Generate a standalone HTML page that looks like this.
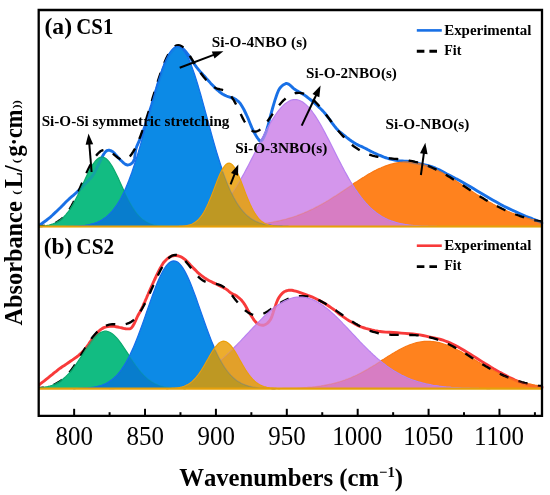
<!DOCTYPE html>
<html><head><meta charset="utf-8"><title>FTIR deconvolution</title>
<style>
html,body{margin:0;padding:0;background:#fff;}
body{width:550px;height:495px;overflow:hidden;position:relative;font-family:"Liberation Serif",serif;}
svg text{font-family:"Liberation Serif",serif;fill:#000;font-kerning:none;}
svg text.b{font-weight:bold;}
svg text.r{font-weight:normal;}
</style></head><body>
<svg width="550" height="495" viewBox="0 0 550 495" style="position:absolute;left:0;top:0">
<rect width="550" height="495" fill="#fff"/>
<clipPath id="ca"><rect x="38.7" y="10.0" width="504.8" height="217.79999999999998"/></clipPath>
<clipPath id="cb"><rect x="38.7" y="226.6" width="504.8" height="189.20000000000002"/></clipPath>
<g clip-path="url(#ca)"><path d="M39.0,225.5 L40.2,224.6 L41.9,223.5 L44.0,222.0 L46.1,220.5 L48.1,218.9 L50.1,217.3 L52.1,215.5 L54.1,213.6 L56.2,211.7 L58.2,209.8 L60.3,207.8 L62.3,205.7 L64.4,203.6 L66.4,201.5 L68.3,199.7 L70.0,198.1 L71.7,196.7 L73.3,195.4 L74.8,194.0 L76.4,192.6 L78.0,191.1 L79.6,189.5 L81.3,187.9 L82.9,186.2 L84.5,184.5 L86.2,182.8 L87.8,181.1 L89.5,179.3 L91.1,177.5 L92.6,175.5 L93.9,173.4 L95.2,171.1 L96.4,168.8 L97.5,166.5 L98.6,164.3 L99.7,162.1 L100.8,159.9 L101.8,157.7 L102.8,155.8 L103.7,154.2 L104.6,153.0 L105.3,152.0 L106.1,151.2 L106.8,150.7 L107.7,150.4 L108.6,150.3 L109.6,150.3 L110.6,150.6 L111.7,151.1 L112.8,151.8 L113.9,152.8 L115.1,154.1 L116.3,155.5 L117.6,157.0 L118.8,158.3 L120.0,159.6 L121.3,160.8 L122.6,162.0 L123.8,163.1 L124.9,163.9 L125.9,164.5 L126.8,164.8 L127.6,165.0 L128.4,164.9 L129.3,164.7 L130.3,164.3 L131.3,163.7 L132.3,162.9 L133.2,161.8 L134.0,160.3 L134.6,158.3 L134.9,155.9 L135.2,153.3 L135.6,150.6 L136.2,148.0 L137.1,145.6 L138.1,143.3 L139.2,140.9 L140.3,138.5 L141.4,136.0 L142.4,133.3 L143.4,130.5 L144.4,127.7 L145.4,124.8 L146.3,122.0 L147.2,119.2 L148.1,116.4 L149.0,113.6 L149.8,110.8 L150.7,108.0 L151.6,105.2 L152.4,102.4 L153.2,99.6 L154.1,96.8 L154.9,94.0 L155.7,91.2 L156.6,88.4 L157.4,85.6 L158.3,82.8 L159.2,80.0 L160.2,77.1 L161.1,74.2 L162.2,71.3 L163.1,68.5 L164.1,66.0 L164.9,63.7 L165.6,61.7 L166.4,59.8 L167.3,57.9 L168.4,56.0 L169.9,53.9 L171.7,51.6 L173.6,49.4 L175.5,47.7 L177.3,46.8 L179.0,46.7 L180.5,47.1 L182.1,48.1 L183.8,49.6 L185.6,51.5 L187.7,54.1 L190.0,57.4 L192.3,61.0 L194.6,64.5 L196.7,67.4 L198.5,69.6 L200.0,71.4 L201.5,73.0 L203.0,74.7 L204.7,76.5 L206.6,78.7 L208.7,81.0 L210.8,83.4 L212.9,85.6 L214.8,87.6 L216.5,89.3 L218.2,90.7 L219.8,92.0 L221.3,93.2 L222.9,94.2 L224.6,95.1 L226.4,96.0 L228.1,96.7 L229.7,97.2 L231.0,97.7 L231.9,98.0 L232.5,98.0 L232.9,97.9 L233.4,98.0 L234.1,98.4 L235.1,99.0 L236.3,99.8 L237.6,100.8 L238.9,101.9 L240.2,103.4 L241.4,105.2 L242.6,107.3 L243.9,109.5 L245.1,112.0 L246.3,114.5 L247.5,117.2 L248.8,120.2 L250.0,123.2 L251.2,126.1 L252.3,128.7 L253.4,130.9 L254.5,133.0 L255.5,134.8 L256.5,136.5 L257.4,137.8 L258.3,139.0 L259.0,140.1 L259.8,140.8 L260.5,141.1 L261.4,140.8 L262.3,139.8 L263.3,138.3 L264.3,136.2 L265.4,133.7 L266.5,130.7 L267.6,127.0 L268.8,122.5 L270.0,117.7 L271.3,112.9 L272.5,108.5 L273.7,104.4 L274.9,100.4 L276.2,96.5 L277.4,93.1 L278.6,90.3 L279.8,88.2 L281.1,86.7 L282.3,85.6 L283.5,84.8 L284.6,84.2 L285.5,83.7 L286.3,83.5 L287.0,83.5 L287.8,83.8 L288.7,84.2 L289.7,84.9 L290.8,85.8 L291.9,86.9 L293.2,88.1 L294.7,89.3 L296.5,90.4 L298.4,91.6 L300.6,92.8 L302.7,94.0 L304.8,95.4 L306.8,96.8 L308.8,98.4 L310.9,100.0 L312.9,101.6 L314.9,103.4 L316.9,105.2 L318.9,107.1 L320.9,109.0 L323.0,111.1 L325.1,113.5 L327.3,116.3 L329.7,119.5 L332.0,122.8 L334.3,125.9 L336.4,128.5 L338.3,130.5 L340.1,132.2 L341.8,133.5 L343.5,134.8 L345.2,136.2 L346.9,137.6 L348.7,139.0 L350.4,140.3 L352.2,141.6 L354.1,142.8 L356.2,144.0 L358.3,145.1 L360.6,146.2 L362.9,147.2 L365.1,148.3 L367.3,149.4 L369.5,150.6 L371.7,151.7 L373.9,152.8 L376.1,153.8 L378.3,154.8 L380.5,155.7 L382.7,156.6 L384.9,157.5 L387.1,158.2 L389.3,158.8 L391.5,159.4 L393.6,159.8 L395.8,160.2 L398.1,160.6 L400.3,160.9 L402.3,161.0 L404.5,161.1 L407.0,161.3 L410.0,161.8 L413.8,162.5 L418.1,163.3 L422.7,164.3 L427.3,165.4 L431.6,166.7 L435.5,168.2 L439.3,169.9 L443.0,171.8 L446.5,173.7 L450.0,175.5 L453.3,177.2 L456.4,178.9 L459.5,180.5 L462.6,182.3 L466.0,184.2 L469.6,186.3 L473.4,188.6 L477.3,191.0 L481.2,193.3 L485.0,195.6 L488.8,197.8 L492.6,200.0 L496.4,202.1 L500.2,204.2 L504.0,206.2 L507.9,208.1 L511.9,210.0 L515.9,211.8 L519.6,213.5 L523.0,215.0 L525.9,216.3 L528.5,217.3 L530.9,218.2 L533.0,219.1 L535.0,219.9 L536.8,220.7 L538.5,221.5 L539.9,222.2 L541.1,222.8 L542.0,223.2" fill="none" stroke="#1870E6" stroke-width="2.9" stroke-linejoin="round" stroke-linecap="round"/>
<path d="M199.2,226.5 L200.7,226.5 L202.2,226.5 L203.7,226.5 L205.2,226.4 L206.7,226.4 L208.2,226.4 L209.7,226.4 L211.2,226.4 L212.7,226.4 L214.2,226.3 L215.7,226.3 L217.2,226.3 L218.7,226.2 L220.2,226.2 L221.7,226.2 L223.2,226.2 L224.7,226.1 L226.2,226.1 L227.7,226.0 L229.2,226.0 L230.7,225.9 L232.2,225.9 L233.7,225.8 L235.2,225.8 L236.7,225.7 L238.2,225.6 L239.7,225.5 L241.2,225.5 L242.7,225.4 L244.2,225.3 L245.7,225.2 L247.2,225.1 L248.7,225.0 L250.2,224.9 L251.7,224.7 L253.2,224.6 L254.7,224.5 L256.2,224.3 L257.7,224.1 L259.2,224.0 L260.7,223.8 L262.2,223.6 L263.7,223.4 L265.2,223.2 L266.7,223.0 L268.2,222.8 L269.7,222.5 L271.2,222.3 L272.7,222.0 L274.2,221.7 L275.7,221.4 L277.2,221.1 L278.7,220.8 L280.2,220.5 L281.7,220.1 L283.2,219.7 L284.7,219.4 L286.2,219.0 L287.7,218.5 L289.2,218.1 L290.7,217.7 L292.2,217.2 L293.7,216.7 L295.2,216.2 L296.7,215.7 L298.2,215.1 L299.7,214.6 L301.2,214.0 L302.7,213.4 L304.2,212.8 L305.7,212.1 L307.2,211.5 L308.7,210.8 L310.2,210.1 L311.7,209.4 L313.2,208.7 L314.7,207.9 L316.2,207.1 L317.7,206.4 L319.2,205.6 L320.7,204.7 L322.2,203.9 L323.7,203.0 L325.2,202.2 L326.7,201.3 L328.2,200.4 L329.7,199.5 L331.2,198.5 L332.7,197.6 L334.2,196.6 L335.7,195.7 L337.2,194.7 L338.7,193.7 L340.2,192.7 L341.7,191.7 L343.2,190.7 L344.7,189.7 L346.2,188.7 L347.7,187.7 L349.2,186.7 L350.7,185.7 L352.2,184.7 L353.7,183.6 L355.2,182.6 L356.7,181.7 L358.2,180.7 L359.7,179.7 L361.2,178.7 L362.7,177.8 L364.2,176.9 L365.7,175.9 L367.2,175.0 L368.7,174.1 L370.2,173.3 L371.7,172.4 L373.2,171.6 L374.7,170.8 L376.2,170.1 L377.7,169.3 L379.2,168.6 L380.7,168.0 L382.2,167.3 L383.7,166.7 L385.2,166.1 L386.7,165.6 L388.2,165.1 L389.7,164.6 L391.2,164.2 L392.7,163.8 L394.2,163.4 L395.7,163.1 L397.2,162.8 L398.7,162.6 L400.2,162.4 L401.7,162.3 L403.2,162.2 L404.7,162.1 L406.2,162.1 L407.7,162.1 L409.2,162.2 L410.7,162.3 L412.2,162.4 L413.7,162.6 L415.2,162.9 L416.7,163.1 L418.2,163.4 L419.7,163.8 L421.2,164.1 L422.7,164.6 L424.2,165.0 L425.7,165.5 L427.2,166.0 L428.7,166.6 L430.2,167.1 L431.7,167.8 L433.2,168.4 L434.7,169.1 L436.2,169.8 L437.7,170.5 L439.2,171.3 L440.7,172.0 L442.2,172.8 L443.7,173.7 L445.2,174.5 L446.7,175.4 L448.2,176.2 L449.7,177.1 L451.2,178.0 L452.7,179.0 L454.2,179.9 L455.7,180.8 L457.2,181.8 L458.7,182.7 L460.2,183.7 L461.7,184.7 L463.2,185.7 L464.7,186.6 L466.2,187.6 L467.7,188.6 L469.2,189.6 L470.7,190.5 L472.2,191.5 L473.7,192.5 L475.2,193.4 L476.7,194.4 L478.2,195.3 L479.7,196.3 L481.2,197.2 L482.7,198.1 L484.2,199.0 L485.7,199.9 L487.2,200.8 L488.7,201.7 L490.2,202.5 L491.7,203.3 L493.2,204.2 L494.7,205.0 L496.2,205.8 L497.7,206.5 L499.2,207.3 L500.7,208.0 L502.2,208.8 L503.7,209.5 L505.2,210.2 L506.7,210.8 L508.2,211.5 L509.7,212.1 L511.2,212.7 L512.7,213.3 L514.2,213.9 L515.7,214.5 L517.2,215.0 L518.7,215.5 L520.2,216.1 L521.7,216.6 L523.2,217.0 L524.7,217.5 L526.2,217.9 L527.7,218.4 L529.2,218.8 L530.7,219.2 L532.2,219.5 L533.7,219.9 L535.2,220.3 L536.7,220.6 L538.2,220.9 L539.7,221.2 L541.2,221.5 L541.2,226.6 L199.2,226.6 Z" fill="#FF821E"/>
<path d="M199.2,226.5 L200.7,226.5 L202.2,226.5 L203.7,226.5 L205.2,226.4 L206.7,226.4 L208.2,226.4 L209.7,226.4 L211.2,226.4 L212.7,226.4 L214.2,226.3 L215.7,226.3 L217.2,226.3 L218.7,226.2 L220.2,226.2 L221.7,226.2 L223.2,226.2 L224.7,226.1 L226.2,226.1 L227.7,226.0 L229.2,226.0 L230.7,225.9 L232.2,225.9 L233.7,225.8 L235.2,225.8 L236.7,225.7 L238.2,225.6 L239.7,225.5 L241.2,225.5 L242.7,225.4 L244.2,225.3 L245.7,225.2 L247.2,225.1 L248.7,225.0 L250.2,224.9 L251.7,224.7 L253.2,224.6 L254.7,224.5 L256.2,224.3 L257.7,224.1 L259.2,224.0 L260.7,223.8 L262.2,223.6 L263.7,223.4 L265.2,223.2 L266.7,223.0 L268.2,222.8 L269.7,222.5 L271.2,222.3 L272.7,222.0 L274.2,221.7 L275.7,221.4 L277.2,221.1 L278.7,220.8 L280.2,220.5 L281.7,220.1 L283.2,219.7 L284.7,219.4 L286.2,219.0 L287.7,218.5 L289.2,218.1 L290.7,217.7 L292.2,217.2 L293.7,216.7 L295.2,216.2 L296.7,215.7 L298.2,215.1 L299.7,214.6 L301.2,214.0 L302.7,213.4 L304.2,212.8 L305.7,212.1 L307.2,211.5 L308.7,210.8 L310.2,210.1 L311.7,209.4 L313.2,208.7 L314.7,207.9 L316.2,207.1 L317.7,206.4 L319.2,205.6 L320.7,204.7 L322.2,203.9 L323.7,203.0 L325.2,202.2 L326.7,201.3 L328.2,200.4 L329.7,199.5 L331.2,198.5 L332.7,197.6 L334.2,196.6 L335.7,195.7 L337.2,194.7 L338.7,193.7 L340.2,192.7 L341.7,191.7 L343.2,190.7 L344.7,189.7 L346.2,188.7 L347.7,187.7 L349.2,186.7 L350.7,185.7 L352.2,184.7 L353.7,183.6 L355.2,182.6 L356.7,181.7 L358.2,180.7 L359.7,179.7 L361.2,178.7 L362.7,177.8 L364.2,176.9 L365.7,175.9 L367.2,175.0 L368.7,174.1 L370.2,173.3 L371.7,172.4 L373.2,171.6 L374.7,170.8 L376.2,170.1 L377.7,169.3 L379.2,168.6 L380.7,168.0 L382.2,167.3 L383.7,166.7 L385.2,166.1 L386.7,165.6 L388.2,165.1 L389.7,164.6 L391.2,164.2 L392.7,163.8 L394.2,163.4 L395.7,163.1 L397.2,162.8 L398.7,162.6 L400.2,162.4 L401.7,162.3 L403.2,162.2 L404.7,162.1 L406.2,162.1 L407.7,162.1 L409.2,162.2 L410.7,162.3 L412.2,162.4 L413.7,162.6 L415.2,162.9 L416.7,163.1 L418.2,163.4 L419.7,163.8 L421.2,164.1 L422.7,164.6 L424.2,165.0 L425.7,165.5 L427.2,166.0 L428.7,166.6 L430.2,167.1 L431.7,167.8 L433.2,168.4 L434.7,169.1 L436.2,169.8 L437.7,170.5 L439.2,171.3 L440.7,172.0 L442.2,172.8 L443.7,173.7 L445.2,174.5 L446.7,175.4 L448.2,176.2 L449.7,177.1 L451.2,178.0 L452.7,179.0 L454.2,179.9 L455.7,180.8 L457.2,181.8 L458.7,182.7 L460.2,183.7 L461.7,184.7 L463.2,185.7 L464.7,186.6 L466.2,187.6 L467.7,188.6 L469.2,189.6 L470.7,190.5 L472.2,191.5 L473.7,192.5 L475.2,193.4 L476.7,194.4 L478.2,195.3 L479.7,196.3 L481.2,197.2 L482.7,198.1 L484.2,199.0 L485.7,199.9 L487.2,200.8 L488.7,201.7 L490.2,202.5 L491.7,203.3 L493.2,204.2 L494.7,205.0 L496.2,205.8 L497.7,206.5 L499.2,207.3 L500.7,208.0 L502.2,208.8 L503.7,209.5 L505.2,210.2 L506.7,210.8 L508.2,211.5 L509.7,212.1 L511.2,212.7 L512.7,213.3 L514.2,213.9 L515.7,214.5 L517.2,215.0 L518.7,215.5 L520.2,216.1 L521.7,216.6 L523.2,217.0 L524.7,217.5 L526.2,217.9 L527.7,218.4 L529.2,218.8 L530.7,219.2 L532.2,219.5 L533.7,219.9 L535.2,220.3 L536.7,220.6 L538.2,220.9 L539.7,221.2 L541.2,221.5" fill="none" stroke="#FA7814" stroke-width="1.2"/>
<path d="M38.7,226.3 L40.2,226.2 L41.7,226.1 L43.2,225.9 L44.7,225.8 L46.2,225.6 L47.7,225.3 L49.2,225.0 L50.7,224.6 L52.2,224.1 L53.7,223.6 L55.2,223.0 L56.7,222.2 L58.2,221.3 L59.7,220.3 L61.2,219.1 L62.7,217.8 L64.2,216.3 L65.7,214.6 L67.2,212.7 L68.7,210.5 L70.2,208.2 L71.7,205.6 L73.2,202.8 L74.7,199.8 L76.2,196.6 L77.7,193.3 L79.2,189.8 L80.7,186.3 L82.2,182.8 L83.7,179.3 L85.2,175.9 L86.7,172.5 L88.2,169.3 L89.7,166.3 L91.2,163.4 L92.7,160.8 L94.2,158.4 L95.7,156.2 L97.2,154.4 L98.7,152.8 L100.2,151.5 L101.7,150.6 L103.2,150.1 L104.7,149.8 L106.2,149.9 L107.7,150.4 L109.2,151.0 L110.7,152.0 L112.2,153.1 L113.7,154.3 L115.2,155.6 L116.7,156.8 L118.2,157.9 L119.7,158.8 L121.2,159.5 L122.7,159.9 L124.2,159.9 L125.7,159.5 L127.2,158.7 L128.7,157.6 L130.2,156.0 L131.7,154.0 L133.2,151.7 L134.7,149.1 L136.2,146.1 L137.7,142.8 L139.2,139.2 L140.7,135.3 L142.2,131.2 L143.7,126.9 L145.2,122.4 L146.7,117.7 L148.2,112.9 L149.7,107.9 L151.2,103.0 L152.7,97.9 L154.2,93.0 L155.7,88.0 L157.2,83.2 L158.7,78.5 L160.2,74.1 L161.7,69.8 L163.2,65.7 L164.7,62.0 L166.2,58.6 L167.7,55.5 L169.2,52.8 L170.7,50.5 L172.2,48.5 L173.7,47.0 L175.2,46.0 L176.7,45.3 L178.2,45.1 L179.7,45.3 L181.2,46.0 L182.7,47.0 L184.2,48.3 L185.7,50.0 L187.2,52.0 L188.7,54.2 L190.2,56.5 L191.7,58.9 L193.2,61.4 L194.7,63.9 L196.2,66.3 L197.7,68.6 L199.2,70.9 L200.7,73.0 L202.2,75.0 L203.7,77.0 L205.2,78.8 L206.7,80.6 L208.2,82.3 L209.7,83.8 L211.2,85.1 L212.7,86.3 L214.2,87.3 L215.7,88.0 L217.2,88.6 L218.7,89.0 L220.2,89.4 L221.7,89.7 L223.2,90.1 L224.7,90.7 L226.2,91.4 L227.7,92.5 L229.2,93.9 L230.7,95.7 L232.2,97.8 L233.7,100.2 L235.2,102.9 L236.7,105.8 L238.2,108.9 L239.7,112.0 L241.2,115.1 L242.7,118.1 L244.2,121.0 L245.7,123.6 L247.2,125.9 L248.7,127.8 L250.2,129.4 L251.7,130.5 L253.2,131.3 L254.7,131.6 L256.2,131.5 L257.7,131.0 L259.2,130.2 L260.7,129.1 L262.2,127.7 L263.7,126.1 L265.2,124.3 L266.7,122.4 L268.2,120.3 L269.7,118.2 L271.2,116.1 L272.7,113.9 L274.2,111.8 L275.7,109.8 L277.2,107.8 L278.7,105.8 L280.2,104.0 L281.7,102.3 L283.2,100.7 L284.7,99.3 L286.2,98.0 L287.7,96.8 L289.2,95.8 L290.7,94.9 L292.2,94.2 L293.7,93.7 L295.2,93.2 L296.7,93.0 L298.2,92.9 L299.7,92.9 L301.2,93.1 L302.7,93.4 L304.2,93.9 L305.7,94.5 L307.2,95.3 L308.7,96.2 L310.2,97.3 L311.7,98.4 L313.2,99.7 L314.7,101.1 L316.2,102.7 L317.7,104.3 L319.2,106.0 L320.7,107.8 L322.2,109.6 L323.7,111.6 L325.2,113.5 L326.7,115.5 L328.2,117.5 L329.7,119.5 L331.2,121.5 L332.7,123.5 L334.2,125.5 L335.7,127.5 L337.2,129.4 L338.7,131.2 L340.2,133.0 L341.7,134.7 L343.2,136.4 L344.7,138.0 L346.2,139.6 L347.7,141.0 L349.2,142.4 L350.7,143.7 L352.2,145.0 L353.7,146.2 L355.2,147.3 L356.7,148.3 L358.2,149.3 L359.7,150.2 L361.2,151.1 L362.7,151.8 L364.2,152.6 L365.7,153.2 L367.2,153.8 L368.7,154.4 L370.2,154.9 L371.7,155.4 L373.2,155.8 L374.7,156.2 L376.2,156.5 L377.7,156.8 L379.2,157.1 L380.7,157.3 L382.2,157.6 L383.7,157.8 L385.2,157.9 L386.7,158.1 L388.2,158.2 L389.7,158.4 L391.2,158.5 L392.7,158.6 L394.2,158.8 L395.7,158.9 L397.2,159.0 L398.7,159.2 L400.2,159.3 L401.7,159.5 L403.2,159.7 L404.7,159.9 L406.2,160.1 L407.7,160.3 L409.2,160.6 L410.7,160.9 L412.2,161.2 L413.7,161.5 L415.2,161.9 L416.7,162.2 L418.2,162.6 L419.7,163.1 L421.2,163.5 L422.7,164.0 L424.2,164.5 L425.7,165.1 L427.2,165.6 L428.7,166.2 L430.2,166.9 L431.7,167.5 L433.2,168.2 L434.7,168.9 L436.2,169.6 L437.7,170.4 L439.2,171.1 L440.7,171.9 L442.2,172.7 L443.7,173.6 L445.2,174.4 L446.7,175.3 L448.2,176.2 L449.7,177.1 L451.2,178.0 L452.7,178.9 L454.2,179.9 L455.7,180.8 L457.2,181.8 L458.7,182.7 L460.2,183.7 L461.7,184.7 L463.2,185.6 L464.7,186.6 L466.2,187.6 L467.7,188.6 L469.2,189.6 L470.7,190.5 L472.2,191.5 L473.7,192.5 L475.2,193.4 L476.7,194.4 L478.2,195.3 L479.7,196.3 L481.2,197.2 L482.7,198.1 L484.2,199.0 L485.7,199.9 L487.2,200.8 L488.7,201.7 L490.2,202.5 L491.7,203.3 L493.2,204.2 L494.7,205.0 L496.2,205.8 L497.7,206.5 L499.2,207.3 L500.7,208.0 L502.2,208.8 L503.7,209.5 L505.2,210.2 L506.7,210.8 L508.2,211.5 L509.7,212.1 L511.2,212.7 L512.7,213.3 L514.2,213.9 L515.7,214.5 L517.2,215.0 L518.7,215.5 L520.2,216.1 L521.7,216.6 L523.2,217.0 L524.7,217.5 L526.2,217.9 L527.7,218.4 L529.2,218.8 L530.7,219.2 L532.2,219.5 L533.7,219.9 L535.2,220.3 L536.7,220.6 L538.2,220.9 L539.7,221.2 L541.2,221.5" fill="none" stroke="#000" stroke-width="2.35" stroke-dasharray="9.5 10.5" stroke-dashoffset="3.1"/>
<path d="M38.7,226.3 L40.2,226.2 L41.7,226.1 L43.2,226.0 L44.7,225.8 L46.2,225.6 L47.7,225.3 L49.2,225.0 L50.7,224.6 L52.2,224.2 L53.7,223.6 L55.2,223.0 L56.7,222.2 L58.2,221.4 L59.7,220.4 L61.2,219.3 L62.7,218.0 L64.2,216.5 L65.7,214.8 L67.2,213.0 L68.7,211.0 L70.2,208.8 L71.7,206.4 L73.2,203.9 L74.7,201.1 L76.2,198.2 L77.7,195.2 L79.2,192.0 L80.7,188.8 L82.2,185.5 L83.7,182.3 L85.2,179.0 L86.7,175.8 L88.2,172.7 L89.7,169.8 L91.2,167.1 L92.7,164.6 L94.2,162.5 L95.7,160.6 L97.2,159.2 L98.7,158.1 L100.2,157.4 L101.7,157.1 L103.2,157.3 L104.7,157.8 L106.2,158.8 L107.7,160.2 L109.2,161.9 L110.7,164.0 L112.2,166.4 L113.7,169.1 L115.2,171.9 L116.7,175.0 L118.2,178.1 L119.7,181.4 L121.2,184.7 L122.7,188.0 L124.2,191.2 L125.7,194.4 L127.2,197.4 L128.7,200.4 L130.2,203.1 L131.7,205.8 L133.2,208.2 L134.7,210.4 L136.2,212.5 L137.7,214.4 L139.2,216.1 L140.7,217.6 L142.2,218.9 L143.7,220.1 L145.2,221.1 L146.7,222.0 L148.2,222.8 L149.7,223.5 L151.2,224.0 L152.7,224.5 L154.2,224.9 L155.7,225.2 L157.2,225.5 L158.7,225.7 L160.2,225.9 L161.7,226.1 L163.2,226.2 L164.7,226.3 L166.2,226.3 L167.7,226.4 L169.2,226.5 L170.7,226.5 L170.7,226.6 L38.7,226.6 Z" fill="#12BC82"/>
<path d="M38.7,226.3 L40.2,226.2 L41.7,226.1 L43.2,226.0 L44.7,225.8 L46.2,225.6 L47.7,225.3 L49.2,225.0 L50.7,224.6 L52.2,224.2 L53.7,223.6 L55.2,223.0 L56.7,222.2 L58.2,221.4 L59.7,220.4 L61.2,219.3 L62.7,218.0 L64.2,216.5 L65.7,214.8 L67.2,213.0 L68.7,211.0 L70.2,208.8 L71.7,206.4 L73.2,203.9 L74.7,201.1 L76.2,198.2 L77.7,195.2 L79.2,192.0 L80.7,188.8 L82.2,185.5 L83.7,182.3 L85.2,179.0 L86.7,175.8 L88.2,172.7 L89.7,169.8 L91.2,167.1 L92.7,164.6 L94.2,162.5 L95.7,160.6 L97.2,159.2 L98.7,158.1 L100.2,157.4 L101.7,157.1 L103.2,157.3 L104.7,157.8 L106.2,158.8 L107.7,160.2 L109.2,161.9 L110.7,164.0 L112.2,166.4 L113.7,169.1 L115.2,171.9 L116.7,175.0 L118.2,178.1 L119.7,181.4 L121.2,184.7 L122.7,188.0 L124.2,191.2 L125.7,194.4 L127.2,197.4 L128.7,200.4 L130.2,203.1 L131.7,205.8 L133.2,208.2 L134.7,210.4 L136.2,212.5 L137.7,214.4 L139.2,216.1 L140.7,217.6 L142.2,218.9 L143.7,220.1 L145.2,221.1 L146.7,222.0 L148.2,222.8 L149.7,223.5 L151.2,224.0 L152.7,224.5 L154.2,224.9 L155.7,225.2 L157.2,225.5 L158.7,225.7 L160.2,225.9 L161.7,226.1 L163.2,226.2 L164.7,226.3 L166.2,226.3 L167.7,226.4 L169.2,226.5 L170.7,226.5" fill="none" stroke="#0AAA6E" stroke-width="1.2"/>
<path d="M149.7,226.5 L151.2,226.5 L152.7,226.5 L154.2,226.4 L155.7,226.4 L157.2,226.4 L158.7,226.4 L160.2,226.3 L161.7,226.3 L163.2,226.2 L164.7,226.2 L166.2,226.1 L167.7,226.0 L169.2,226.0 L170.7,225.9 L172.2,225.8 L173.7,225.7 L175.2,225.6 L176.7,225.4 L178.2,225.3 L179.7,225.1 L181.2,225.0 L182.7,224.8 L184.2,224.5 L185.7,224.3 L187.2,224.0 L188.7,223.7 L190.2,223.4 L191.7,223.1 L193.2,222.7 L194.7,222.3 L196.2,221.8 L197.7,221.3 L199.2,220.8 L200.7,220.2 L202.2,219.5 L203.7,218.9 L205.2,218.1 L206.7,217.3 L208.2,216.5 L209.7,215.5 L211.2,214.6 L212.7,213.5 L214.2,212.4 L215.7,211.2 L217.2,209.9 L218.7,208.6 L220.2,207.2 L221.7,205.7 L223.2,204.1 L224.7,202.4 L226.2,200.7 L227.7,198.8 L229.2,196.9 L230.7,194.9 L232.2,192.8 L233.7,190.6 L235.2,188.4 L236.7,186.0 L238.2,183.6 L239.7,181.1 L241.2,178.5 L242.7,175.9 L244.2,173.2 L245.7,170.4 L247.2,167.6 L248.7,164.7 L250.2,161.8 L251.7,158.9 L253.2,155.9 L254.7,153.0 L256.2,150.0 L257.7,147.0 L259.2,144.0 L260.7,141.0 L262.2,138.1 L263.7,135.2 L265.2,132.3 L266.7,129.5 L268.2,126.8 L269.7,124.1 L271.2,121.6 L272.7,119.1 L274.2,116.8 L275.7,114.5 L277.2,112.4 L278.7,110.4 L280.2,108.6 L281.7,106.9 L283.2,105.4 L284.7,104.0 L286.2,102.9 L287.7,101.9 L289.2,101.0 L290.7,100.4 L292.2,99.9 L293.7,99.7 L295.2,99.6 L296.7,99.7 L298.2,100.0 L299.7,100.5 L301.2,101.2 L302.7,102.1 L304.2,103.2 L305.7,104.4 L307.2,105.8 L308.7,107.4 L310.2,109.1 L311.7,110.9 L313.2,113.0 L314.7,115.1 L316.2,117.4 L317.7,119.8 L319.2,122.3 L320.7,124.8 L322.2,127.5 L323.7,130.3 L325.2,133.1 L326.7,136.0 L328.2,138.9 L329.7,141.8 L331.2,144.8 L332.7,147.8 L334.2,150.8 L335.7,153.8 L337.2,156.7 L338.7,159.7 L340.2,162.6 L341.7,165.5 L343.2,168.4 L344.7,171.2 L346.2,173.9 L347.7,176.6 L349.2,179.2 L350.7,181.8 L352.2,184.2 L353.7,186.6 L355.2,189.0 L356.7,191.2 L358.2,193.4 L359.7,195.4 L361.2,197.4 L362.7,199.3 L364.2,201.1 L365.7,202.9 L367.2,204.5 L368.7,206.1 L370.2,207.6 L371.7,209.0 L373.2,210.3 L374.7,211.5 L376.2,212.7 L377.7,213.8 L379.2,214.8 L380.7,215.8 L382.2,216.7 L383.7,217.5 L385.2,218.3 L386.7,219.0 L388.2,219.7 L389.7,220.3 L391.2,220.9 L392.7,221.4 L394.2,221.9 L395.7,222.4 L397.2,222.8 L398.7,223.2 L400.2,223.5 L401.7,223.8 L403.2,224.1 L404.7,224.4 L406.2,224.6 L407.7,224.8 L409.2,225.0 L410.7,225.2 L412.2,225.3 L413.7,225.5 L415.2,225.6 L416.7,225.7 L418.2,225.8 L419.7,225.9 L421.2,226.0 L422.7,226.1 L424.2,226.1 L425.7,226.2 L427.2,226.2 L428.7,226.3 L430.2,226.3 L431.7,226.4 L433.2,226.4 L434.7,226.4 L436.2,226.4 L437.7,226.5 L439.2,226.5 L439.2,226.6 L149.7,226.6 Z" fill="#D496EC"/>
<path d="M199.2,226.5 L200.7,226.5 L202.2,226.5 L203.7,226.5 L205.2,226.4 L206.7,226.4 L208.2,226.4 L209.7,226.4 L211.2,226.4 L212.7,226.4 L214.2,226.3 L215.7,226.3 L217.2,226.3 L218.7,226.2 L220.2,226.2 L221.7,226.2 L223.2,226.2 L224.7,226.1 L226.2,226.1 L227.7,226.0 L229.2,226.0 L230.7,225.9 L232.2,225.9 L233.7,225.8 L235.2,225.8 L236.7,225.7 L238.2,225.6 L239.7,225.5 L241.2,225.5 L242.7,225.4 L244.2,225.3 L245.7,225.2 L247.2,225.1 L248.7,225.0 L250.2,224.9 L251.7,224.7 L253.2,224.6 L254.7,224.5 L256.2,224.3 L257.7,224.1 L259.2,224.0 L260.7,223.8 L262.2,223.6 L263.7,223.4 L265.2,223.2 L266.7,223.0 L268.2,222.8 L269.7,222.5 L271.2,222.3 L272.7,222.0 L274.2,221.7 L275.7,221.4 L277.2,221.1 L278.7,220.8 L280.2,220.5 L281.7,220.1 L283.2,219.7 L284.7,219.4 L286.2,219.0 L287.7,218.5 L289.2,218.1 L290.7,217.7 L292.2,217.2 L293.7,216.7 L295.2,216.2 L296.7,215.7 L298.2,215.1 L299.7,214.6 L301.2,214.0 L302.7,213.4 L304.2,212.8 L305.7,212.1 L307.2,211.5 L308.7,210.8 L310.2,210.1 L311.7,209.4 L313.2,208.7 L314.7,207.9 L316.2,207.1 L317.7,206.4 L319.2,205.6 L320.7,204.7 L322.2,203.9 L323.7,203.0 L325.2,202.2 L326.7,201.3 L328.2,200.4 L329.7,199.5 L331.2,198.5 L332.7,197.6 L334.2,196.6 L335.7,195.7 L337.2,194.7 L338.7,193.7 L340.2,192.7 L341.7,191.7 L343.2,190.7 L344.7,189.7 L346.2,188.7 L347.7,187.7 L349.2,186.7 L350.7,185.7 L352.2,184.7 L353.7,186.6 L355.2,189.0 L356.7,191.2 L358.2,193.4 L359.7,195.4 L361.2,197.4 L362.7,199.3 L364.2,201.1 L365.7,202.9 L367.2,204.5 L368.7,206.1 L370.2,207.6 L371.7,209.0 L373.2,210.3 L374.7,211.5 L376.2,212.7 L377.7,213.8 L379.2,214.8 L380.7,215.8 L382.2,216.7 L383.7,217.5 L385.2,218.3 L386.7,219.0 L388.2,219.7 L389.7,220.3 L391.2,220.9 L392.7,221.4 L394.2,221.9 L395.7,222.4 L397.2,222.8 L398.7,223.2 L400.2,223.5 L401.7,223.8 L403.2,224.1 L404.7,224.4 L406.2,224.6 L407.7,224.8 L409.2,225.0 L410.7,225.2 L412.2,225.3 L413.7,225.5 L415.2,225.6 L416.7,225.7 L418.2,225.8 L419.7,225.9 L421.2,226.0 L422.7,226.1 L424.2,226.1 L425.7,226.2 L427.2,226.2 L428.7,226.3 L430.2,226.3 L431.7,226.4 L433.2,226.4 L434.7,226.4 L436.2,226.4 L437.7,226.5 L439.2,226.5 L439.2,226.6 L199.2,226.6 Z" fill="#D77DC3"/>
<path d="M199.2,226.5 L200.7,226.5 L202.2,226.5 L203.7,226.5 L205.2,226.4 L206.7,226.4 L208.2,226.4 L209.7,226.4 L211.2,226.4 L212.7,226.4 L214.2,226.3 L215.7,226.3 L217.2,226.3 L218.7,226.2 L220.2,226.2 L221.7,226.2 L223.2,226.2 L224.7,226.1 L226.2,226.1 L227.7,226.0 L229.2,226.0 L230.7,225.9 L232.2,225.9 L233.7,225.8 L235.2,225.8 L236.7,225.7 L238.2,225.6 L239.7,225.5 L241.2,225.5 L242.7,225.4 L244.2,225.3 L245.7,225.2 L247.2,225.1 L248.7,225.0 L250.2,224.9 L251.7,224.7 L253.2,224.6 L254.7,224.5 L256.2,224.3 L257.7,224.1 L259.2,224.0 L260.7,223.8 L262.2,223.6 L263.7,223.4 L265.2,223.2 L266.7,223.0 L268.2,222.8 L269.7,222.5 L271.2,222.3 L272.7,222.0 L274.2,221.7 L275.7,221.4 L277.2,221.1 L278.7,220.8 L280.2,220.5 L281.7,220.1 L283.2,219.7 L284.7,219.4 L286.2,219.0 L287.7,218.5 L289.2,218.1 L290.7,217.7 L292.2,217.2 L293.7,216.7 L295.2,216.2 L296.7,215.7 L298.2,215.1 L299.7,214.6 L301.2,214.0 L302.7,213.4 L304.2,212.8 L305.7,212.1 L307.2,211.5 L308.7,210.8 L310.2,210.1 L311.7,209.4 L313.2,208.7 L314.7,207.9 L316.2,207.1 L317.7,206.4 L319.2,205.6 L320.7,204.7 L322.2,203.9 L323.7,203.0 L325.2,202.2 L326.7,201.3 L328.2,200.4 L329.7,199.5 L331.2,198.5 L332.7,197.6 L334.2,196.6 L335.7,195.7 L337.2,194.7 L338.7,193.7 L340.2,192.7 L341.7,191.7 L343.2,190.7 L344.7,189.7 L346.2,188.7 L347.7,187.7 L349.2,186.7 L350.7,185.7 L352.2,184.7 L353.7,186.6 L355.2,189.0 L356.7,191.2 L358.2,193.4 L359.7,195.4 L361.2,197.4 L362.7,199.3 L364.2,201.1 L365.7,202.9 L367.2,204.5 L368.7,206.1 L370.2,207.6 L371.7,209.0 L373.2,210.3 L374.7,211.5 L376.2,212.7 L377.7,213.8 L379.2,214.8 L380.7,215.8 L382.2,216.7 L383.7,217.5 L385.2,218.3 L386.7,219.0 L388.2,219.7 L389.7,220.3 L391.2,220.9 L392.7,221.4 L394.2,221.9 L395.7,222.4 L397.2,222.8 L398.7,223.2 L400.2,223.5 L401.7,223.8 L403.2,224.1 L404.7,224.4 L406.2,224.6 L407.7,224.8 L409.2,225.0 L410.7,225.2 L412.2,225.3 L413.7,225.5 L415.2,225.6 L416.7,225.7 L418.2,225.8 L419.7,225.9 L421.2,226.0 L422.7,226.1 L424.2,226.1 L425.7,226.2 L427.2,226.2 L428.7,226.3 L430.2,226.3 L431.7,226.4 L433.2,226.4 L434.7,226.4 L436.2,226.4 L437.7,226.5 L439.2,226.5" fill="none" stroke="#FA7814" stroke-width="1.2" stroke-opacity="0.25"/>
<path d="M149.7,226.5 L151.2,226.5 L152.7,226.5 L154.2,226.4 L155.7,226.4 L157.2,226.4 L158.7,226.4 L160.2,226.3 L161.7,226.3 L163.2,226.2 L164.7,226.2 L166.2,226.1 L167.7,226.0 L169.2,226.0 L170.7,225.9 L172.2,225.8 L173.7,225.7 L175.2,225.6 L176.7,225.4 L178.2,225.3 L179.7,225.1 L181.2,225.0 L182.7,224.8 L184.2,224.5 L185.7,224.3 L187.2,224.0 L188.7,223.7 L190.2,223.4 L191.7,223.1 L193.2,222.7 L194.7,222.3 L196.2,221.8 L197.7,221.3 L199.2,220.8 L200.7,220.2 L202.2,219.5 L203.7,218.9 L205.2,218.1 L206.7,217.3 L208.2,216.5 L209.7,215.5 L211.2,214.6 L212.7,213.5 L214.2,212.4 L215.7,211.2 L217.2,209.9 L218.7,208.6 L220.2,207.2 L221.7,205.7 L223.2,204.1 L224.7,202.4 L226.2,200.7 L227.7,198.8 L229.2,196.9 L230.7,194.9 L232.2,192.8 L233.7,190.6 L235.2,188.4 L236.7,186.0 L238.2,183.6 L239.7,181.1 L241.2,178.5 L242.7,175.9 L244.2,173.2 L245.7,170.4 L247.2,167.6 L248.7,164.7 L250.2,161.8 L251.7,158.9 L253.2,155.9 L254.7,153.0 L256.2,150.0 L257.7,147.0 L259.2,144.0 L260.7,141.0 L262.2,138.1 L263.7,135.2 L265.2,132.3 L266.7,129.5 L268.2,126.8 L269.7,124.1 L271.2,121.6 L272.7,119.1 L274.2,116.8 L275.7,114.5 L277.2,112.4 L278.7,110.4 L280.2,108.6 L281.7,106.9 L283.2,105.4 L284.7,104.0 L286.2,102.9 L287.7,101.9 L289.2,101.0 L290.7,100.4 L292.2,99.9 L293.7,99.7 L295.2,99.6 L296.7,99.7 L298.2,100.0 L299.7,100.5 L301.2,101.2 L302.7,102.1 L304.2,103.2 L305.7,104.4 L307.2,105.8 L308.7,107.4 L310.2,109.1 L311.7,110.9 L313.2,113.0 L314.7,115.1 L316.2,117.4 L317.7,119.8 L319.2,122.3 L320.7,124.8 L322.2,127.5 L323.7,130.3 L325.2,133.1 L326.7,136.0 L328.2,138.9 L329.7,141.8 L331.2,144.8 L332.7,147.8 L334.2,150.8 L335.7,153.8 L337.2,156.7 L338.7,159.7 L340.2,162.6 L341.7,165.5 L343.2,168.4 L344.7,171.2 L346.2,173.9 L347.7,176.6 L349.2,179.2 L350.7,181.8 L352.2,184.2 L353.7,186.6 L355.2,189.0 L356.7,191.2 L358.2,193.4 L359.7,195.4 L361.2,197.4 L362.7,199.3 L364.2,201.1 L365.7,202.9 L367.2,204.5 L368.7,206.1 L370.2,207.6 L371.7,209.0 L373.2,210.3 L374.7,211.5 L376.2,212.7 L377.7,213.8 L379.2,214.8 L380.7,215.8 L382.2,216.7 L383.7,217.5 L385.2,218.3 L386.7,219.0 L388.2,219.7 L389.7,220.3 L391.2,220.9 L392.7,221.4 L394.2,221.9 L395.7,222.4 L397.2,222.8 L398.7,223.2 L400.2,223.5 L401.7,223.8 L403.2,224.1 L404.7,224.4 L406.2,224.6 L407.7,224.8 L409.2,225.0 L410.7,225.2 L412.2,225.3 L413.7,225.5 L415.2,225.6 L416.7,225.7 L418.2,225.8 L419.7,225.9 L421.2,226.0 L422.7,226.1 L424.2,226.1 L425.7,226.2 L427.2,226.2 L428.7,226.3 L430.2,226.3 L431.7,226.4 L433.2,226.4 L434.7,226.4 L436.2,226.4 L437.7,226.5 L439.2,226.5" fill="none" stroke="#B982F0" stroke-width="1.2"/>
<path d="M64.2,226.5 L65.7,226.5 L67.2,226.4 L68.7,226.4 L70.2,226.4 L71.7,226.3 L73.2,226.3 L74.7,226.2 L76.2,226.1 L77.7,226.0 L79.2,225.9 L80.7,225.8 L82.2,225.6 L83.7,225.5 L85.2,225.3 L86.7,225.0 L88.2,224.8 L89.7,224.5 L91.2,224.1 L92.7,223.7 L94.2,223.3 L95.7,222.7 L97.2,222.2 L98.7,221.5 L100.2,220.8 L101.7,220.0 L103.2,219.1 L104.7,218.0 L106.2,216.9 L107.7,215.6 L109.2,214.3 L110.7,212.7 L112.2,211.1 L113.7,209.2 L115.2,207.2 L116.7,205.1 L118.2,202.7 L119.7,200.2 L121.2,197.5 L122.7,194.5 L124.2,191.4 L125.7,188.1 L127.2,184.5 L128.7,180.8 L130.2,176.8 L131.7,172.7 L133.2,168.3 L134.7,163.8 L136.2,159.0 L137.7,154.2 L139.2,149.1 L140.7,143.9 L142.2,138.6 L143.7,133.2 L145.2,127.8 L146.7,122.2 L148.2,116.7 L149.7,111.1 L151.2,105.6 L152.7,100.2 L154.2,94.8 L155.7,89.6 L157.2,84.5 L158.7,79.7 L160.2,75.0 L161.7,70.7 L163.2,66.6 L164.7,62.8 L166.2,59.3 L167.7,56.3 L169.2,53.6 L170.7,51.3 L172.2,49.5 L173.7,48.1 L175.2,47.1 L176.7,46.7 L178.2,46.7 L179.7,47.1 L181.2,48.0 L182.7,49.4 L184.2,51.2 L185.7,53.4 L187.2,56.1 L188.7,59.1 L190.2,62.5 L191.7,66.3 L193.2,70.4 L194.7,74.7 L196.2,79.4 L197.7,84.2 L199.2,89.3 L200.7,94.5 L202.2,99.8 L203.7,105.3 L205.2,110.8 L206.7,116.3 L208.2,121.9 L209.7,127.4 L211.2,132.9 L212.7,138.3 L214.2,143.6 L215.7,148.8 L217.2,153.8 L218.7,158.7 L220.2,163.5 L221.7,168.0 L223.2,172.4 L224.7,176.6 L226.2,180.5 L227.7,184.3 L229.2,187.8 L230.7,191.2 L232.2,194.3 L233.7,197.3 L235.2,200.0 L236.7,202.6 L238.2,204.9 L239.7,207.1 L241.2,209.1 L242.7,210.9 L244.2,212.6 L245.7,214.2 L247.2,215.6 L248.7,216.8 L250.2,218.0 L251.7,219.0 L253.2,219.9 L254.7,220.7 L256.2,221.5 L257.7,222.1 L259.2,222.7 L260.7,223.2 L262.2,223.7 L263.7,224.1 L265.2,224.4 L266.7,224.7 L268.2,225.0 L269.7,225.2 L271.2,225.4 L272.7,225.6 L274.2,225.8 L275.7,225.9 L277.2,226.0 L278.7,226.1 L280.2,226.2 L281.7,226.2 L283.2,226.3 L284.7,226.4 L286.2,226.4 L287.7,226.4 L289.2,226.5 L290.7,226.5 L290.7,226.6 L64.2,226.6 Z" fill="#0C8AE6"/>
<path d="M64.2,226.5 L65.7,226.5 L67.2,226.4 L68.7,226.4 L70.2,226.4 L71.7,226.3 L73.2,226.3 L74.7,226.2 L76.2,226.1 L77.7,226.0 L79.2,225.9 L80.7,225.8 L82.2,225.6 L83.7,225.5 L85.2,225.3 L86.7,225.0 L88.2,224.8 L89.7,224.5 L91.2,224.1 L92.7,223.7 L94.2,223.3 L95.7,222.7 L97.2,222.2 L98.7,221.5 L100.2,220.8 L101.7,220.0 L103.2,219.1 L104.7,218.0 L106.2,216.9 L107.7,215.6 L109.2,214.3 L110.7,212.7 L112.2,211.1 L113.7,209.2 L115.2,207.2 L116.7,205.1 L118.2,202.7 L119.7,200.2 L121.2,197.5 L122.7,194.5 L124.2,191.4 L125.7,194.4 L127.2,197.4 L128.7,200.4 L130.2,203.1 L131.7,205.8 L133.2,208.2 L134.7,210.4 L136.2,212.5 L137.7,214.4 L139.2,216.1 L140.7,217.6 L142.2,218.9 L143.7,220.1 L145.2,221.1 L146.7,222.0 L148.2,222.8 L149.7,223.5 L151.2,224.0 L152.7,224.5 L154.2,224.9 L155.7,225.2 L157.2,225.5 L158.7,225.7 L160.2,225.9 L161.7,226.1 L163.2,226.2 L164.7,226.3 L166.2,226.3 L167.7,226.4 L169.2,226.5 L170.7,226.5 L170.7,226.6 L64.2,226.6 Z" fill="#087DCD"/>
<path d="M64.2,226.5 L65.7,226.5 L67.2,226.4 L68.7,226.4 L70.2,226.4 L71.7,226.3 L73.2,226.3 L74.7,226.2 L76.2,226.1 L77.7,226.0 L79.2,225.9 L80.7,225.8 L82.2,225.6 L83.7,225.5 L85.2,225.3 L86.7,225.0 L88.2,224.8 L89.7,224.5 L91.2,224.1 L92.7,223.7 L94.2,223.3 L95.7,222.7 L97.2,222.2 L98.7,221.5 L100.2,220.8 L101.7,220.0 L103.2,219.1 L104.7,218.0 L106.2,216.9 L107.7,215.6 L109.2,214.3 L110.7,212.7 L112.2,211.1 L113.7,209.2 L115.2,207.2 L116.7,205.1 L118.2,202.7 L119.7,200.2 L121.2,197.5 L122.7,194.5 L124.2,191.4 L125.7,194.4 L127.2,197.4 L128.7,200.4 L130.2,203.1 L131.7,205.8 L133.2,208.2 L134.7,210.4 L136.2,212.5 L137.7,214.4 L139.2,216.1 L140.7,217.6 L142.2,218.9 L143.7,220.1 L145.2,221.1 L146.7,222.0 L148.2,222.8 L149.7,223.5 L151.2,224.0 L152.7,224.5 L154.2,224.9 L155.7,225.2 L157.2,225.5 L158.7,225.7 L160.2,225.9 L161.7,226.1 L163.2,226.2 L164.7,226.3 L166.2,226.3 L167.7,226.4 L169.2,226.5 L170.7,226.5" fill="none" stroke="#0AAA6E" stroke-width="1.2" stroke-opacity="0.25"/>
<path d="M64.2,226.5 L65.7,226.5 L67.2,226.4 L68.7,226.4 L70.2,226.4 L71.7,226.3 L73.2,226.3 L74.7,226.2 L76.2,226.1 L77.7,226.0 L79.2,225.9 L80.7,225.8 L82.2,225.6 L83.7,225.5 L85.2,225.3 L86.7,225.0 L88.2,224.8 L89.7,224.5 L91.2,224.1 L92.7,223.7 L94.2,223.3 L95.7,222.7 L97.2,222.2 L98.7,221.5 L100.2,220.8 L101.7,220.0 L103.2,219.1 L104.7,218.0 L106.2,216.9 L107.7,215.6 L109.2,214.3 L110.7,212.7 L112.2,211.1 L113.7,209.2 L115.2,207.2 L116.7,205.1 L118.2,202.7 L119.7,200.2 L121.2,197.5 L122.7,194.5 L124.2,191.4 L125.7,188.1 L127.2,184.5 L128.7,180.8 L130.2,176.8 L131.7,172.7 L133.2,168.3 L134.7,163.8 L136.2,159.0 L137.7,154.2 L139.2,149.1 L140.7,143.9 L142.2,138.6 L143.7,133.2 L145.2,127.8 L146.7,122.2 L148.2,116.7 L149.7,111.1 L151.2,105.6 L152.7,100.2 L154.2,94.8 L155.7,89.6 L157.2,84.5 L158.7,79.7 L160.2,75.0 L161.7,70.7 L163.2,66.6 L164.7,62.8 L166.2,59.3 L167.7,56.3 L169.2,53.6 L170.7,51.3 L172.2,49.5 L173.7,48.1 L175.2,47.1 L176.7,46.7 L178.2,46.7 L179.7,47.1 L181.2,48.0 L182.7,49.4 L184.2,51.2 L185.7,53.4 L187.2,56.1 L188.7,59.1 L190.2,62.5 L191.7,66.3 L193.2,70.4 L194.7,74.7 L196.2,79.4 L197.7,84.2 L199.2,89.3 L200.7,94.5 L202.2,99.8 L203.7,105.3 L205.2,110.8 L206.7,116.3 L208.2,121.9 L209.7,127.4 L211.2,132.9 L212.7,138.3 L214.2,143.6 L215.7,148.8 L217.2,153.8 L218.7,158.7 L220.2,163.5 L221.7,168.0 L223.2,172.4 L224.7,176.6 L226.2,180.5 L227.7,184.3 L229.2,187.8 L230.7,191.2 L232.2,194.3 L233.7,197.3 L235.2,200.0 L236.7,202.6 L238.2,204.9 L239.7,207.1 L241.2,209.1 L242.7,210.9 L244.2,212.6 L245.7,214.2 L247.2,215.6 L248.7,216.8 L250.2,218.0 L251.7,219.0 L253.2,219.9 L254.7,220.7 L256.2,221.5 L257.7,222.1 L259.2,222.7 L260.7,223.2 L262.2,223.7 L263.7,224.1 L265.2,224.4 L266.7,224.7 L268.2,225.0 L269.7,225.2 L271.2,225.4 L272.7,225.6 L274.2,225.8 L275.7,225.9 L277.2,226.0 L278.7,226.1 L280.2,226.2 L281.7,226.2 L283.2,226.3 L284.7,226.4 L286.2,226.4 L287.7,226.4 L289.2,226.5 L290.7,226.5" fill="none" stroke="#146EEB" stroke-width="1.2"/>
<path d="M176.7,226.5 L178.2,226.5 L179.7,226.4 L181.2,226.3 L182.7,226.2 L184.2,226.0 L185.7,225.8 L187.2,225.5 L188.7,225.2 L190.2,224.7 L191.7,224.2 L193.2,223.5 L194.7,222.6 L196.2,221.5 L197.7,220.2 L199.2,218.7 L200.7,216.9 L202.2,214.8 L203.7,212.5 L205.2,209.8 L206.7,206.8 L208.2,203.6 L209.7,200.1 L211.2,196.4 L212.7,192.6 L214.2,188.6 L215.7,184.7 L217.2,180.8 L218.7,177.1 L220.2,173.6 L221.7,170.6 L223.2,167.9 L224.7,165.8 L226.2,164.3 L227.7,163.4 L229.2,163.1 L230.7,163.5 L232.2,164.6 L233.7,166.3 L235.2,168.6 L236.7,171.3 L238.2,174.5 L239.7,178.1 L241.2,181.8 L242.7,185.7 L244.2,189.7 L245.7,193.6 L247.2,197.4 L248.7,201.0 L250.2,204.5 L251.7,207.6 L253.2,210.5 L254.7,213.1 L256.2,215.4 L257.7,217.4 L259.2,219.1 L260.7,220.6 L262.2,221.8 L263.7,222.8 L265.2,223.7 L266.7,224.3 L268.2,224.9 L269.7,225.3 L271.2,225.6 L272.7,225.9 L274.2,226.1 L275.7,226.2 L277.2,226.3 L278.7,226.4 L280.2,226.5 L281.7,226.5 L281.7,226.6 L176.7,226.6 Z" fill="#EDAD2D"/>
<path d="M176.7,226.5 L178.2,226.5 L179.7,226.4 L181.2,226.3 L182.7,226.2 L184.2,226.0 L185.7,225.8 L187.2,225.5 L188.7,225.2 L190.2,224.7 L191.7,224.2 L193.2,223.5 L194.7,222.6 L196.2,221.8 L197.7,221.3 L199.2,220.8 L200.7,220.2 L202.2,219.5 L203.7,218.9 L205.2,218.1 L206.7,217.3 L208.2,216.5 L209.7,215.5 L211.2,214.6 L212.7,213.5 L214.2,212.4 L215.7,211.2 L217.2,209.9 L218.7,208.6 L220.2,207.2 L221.7,205.7 L223.2,204.1 L224.7,202.4 L226.2,200.7 L227.7,198.8 L229.2,196.9 L230.7,194.9 L232.2,192.8 L233.7,190.6 L235.2,188.4 L236.7,186.0 L238.2,183.6 L239.7,181.1 L241.2,181.8 L242.7,185.7 L244.2,189.7 L245.7,193.6 L247.2,197.4 L248.7,201.0 L250.2,204.5 L251.7,207.6 L253.2,210.5 L254.7,213.1 L256.2,215.4 L257.7,217.4 L259.2,219.1 L260.7,220.6 L262.2,221.8 L263.7,222.8 L265.2,223.7 L266.7,224.3 L268.2,224.9 L269.7,225.3 L271.2,225.6 L272.7,225.9 L274.2,226.1 L275.7,226.2 L277.2,226.3 L278.7,226.4 L280.2,226.5 L281.7,226.5 L281.7,226.6 L176.7,226.6 Z" fill="#E2A02A"/>
<path d="M176.7,226.5 L178.2,226.5 L179.7,226.4 L181.2,226.3 L182.7,226.2 L184.2,226.0 L185.7,225.8 L187.2,225.5 L188.7,225.2 L190.2,224.7 L191.7,224.2 L193.2,223.5 L194.7,222.6 L196.2,221.8 L197.7,221.3 L199.2,220.8 L200.7,220.2 L202.2,219.5 L203.7,218.9 L205.2,218.1 L206.7,217.3 L208.2,216.5 L209.7,215.5 L211.2,214.6 L212.7,213.5 L214.2,212.4 L215.7,211.2 L217.2,209.9 L218.7,208.6 L220.2,207.2 L221.7,205.7 L223.2,204.1 L224.7,202.4 L226.2,200.7 L227.7,198.8 L229.2,196.9 L230.7,194.9 L232.2,192.8 L233.7,190.6 L235.2,188.4 L236.7,186.0 L238.2,183.6 L239.7,181.1 L241.2,181.8 L242.7,185.7 L244.2,189.7 L245.7,193.6 L247.2,197.4 L248.7,201.0 L250.2,204.5 L251.7,207.6 L253.2,210.5 L254.7,213.1 L256.2,215.4 L257.7,217.4 L259.2,219.1 L260.7,220.6 L262.2,221.8 L263.7,222.8 L265.2,223.7 L266.7,224.3 L268.2,224.9 L269.7,225.3 L271.2,225.6 L272.7,225.9 L274.2,226.1 L275.7,226.2 L277.2,226.3 L278.7,226.4 L280.2,226.5 L281.7,226.5" fill="none" stroke="#B982F0" stroke-width="1.2" stroke-opacity="0.25"/>
<path d="M176.7,226.5 L178.2,226.5 L179.7,226.4 L181.2,226.3 L182.7,226.2 L184.2,226.0 L185.7,225.8 L187.2,225.5 L188.7,225.2 L190.2,224.7 L191.7,224.2 L193.2,223.5 L194.7,222.6 L196.2,221.5 L197.7,220.2 L199.2,218.7 L200.7,216.9 L202.2,214.8 L203.7,212.5 L205.2,209.8 L206.7,206.8 L208.2,203.6 L209.7,200.1 L211.2,196.4 L212.7,192.6 L214.2,188.6 L215.7,184.7 L217.2,180.8 L218.7,177.1 L220.2,173.6 L221.7,170.6 L223.2,172.4 L224.7,176.6 L226.2,180.5 L227.7,184.3 L229.2,187.8 L230.7,191.2 L232.2,194.3 L233.7,197.3 L235.2,200.0 L236.7,202.6 L238.2,204.9 L239.7,207.1 L241.2,209.1 L242.7,210.9 L244.2,212.6 L245.7,214.2 L247.2,215.6 L248.7,216.8 L250.2,218.0 L251.7,219.0 L253.2,219.9 L254.7,220.7 L256.2,221.5 L257.7,222.1 L259.2,222.7 L260.7,223.2 L262.2,223.7 L263.7,224.1 L265.2,224.4 L266.7,224.7 L268.2,225.0 L269.7,225.3 L271.2,225.6 L272.7,225.9 L274.2,226.1 L275.7,226.2 L277.2,226.3 L278.7,226.4 L280.2,226.5 L281.7,226.5 L281.7,226.6 L176.7,226.6 Z" fill="#BE9823"/>
<path d="M176.7,226.5 L178.2,226.5 L179.7,226.4 L181.2,226.3 L182.7,226.2 L184.2,226.0 L185.7,225.8 L187.2,225.5 L188.7,225.2 L190.2,224.7 L191.7,224.2 L193.2,223.5 L194.7,222.6 L196.2,221.5 L197.7,220.2 L199.2,218.7 L200.7,216.9 L202.2,214.8 L203.7,212.5 L205.2,209.8 L206.7,206.8 L208.2,203.6 L209.7,200.1 L211.2,196.4 L212.7,192.6 L214.2,188.6 L215.7,184.7 L217.2,180.8 L218.7,177.1 L220.2,173.6 L221.7,170.6 L223.2,172.4 L224.7,176.6 L226.2,180.5 L227.7,184.3 L229.2,187.8 L230.7,191.2 L232.2,194.3 L233.7,197.3 L235.2,200.0 L236.7,202.6 L238.2,204.9 L239.7,207.1 L241.2,209.1 L242.7,210.9 L244.2,212.6 L245.7,214.2 L247.2,215.6 L248.7,216.8 L250.2,218.0 L251.7,219.0 L253.2,219.9 L254.7,220.7 L256.2,221.5 L257.7,222.1 L259.2,222.7 L260.7,223.2 L262.2,223.7 L263.7,224.1 L265.2,224.4 L266.7,224.7 L268.2,225.0 L269.7,225.3 L271.2,225.6 L272.7,225.9 L274.2,226.1 L275.7,226.2 L277.2,226.3 L278.7,226.4 L280.2,226.5 L281.7,226.5" fill="none" stroke="#146EEB" stroke-width="1.2" stroke-opacity="0.25"/>
<path d="M176.7,226.5 L178.2,226.5 L179.7,226.4 L181.2,226.3 L182.7,226.2 L184.2,226.0 L185.7,225.8 L187.2,225.5 L188.7,225.2 L190.2,224.7 L191.7,224.2 L193.2,223.5 L194.7,222.6 L196.2,221.5 L197.7,220.2 L199.2,218.7 L200.7,216.9 L202.2,214.8 L203.7,212.5 L205.2,209.8 L206.7,206.8 L208.2,203.6 L209.7,200.1 L211.2,196.4 L212.7,192.6 L214.2,188.6 L215.7,184.7 L217.2,180.8 L218.7,177.1 L220.2,173.6 L221.7,170.6 L223.2,167.9 L224.7,165.8 L226.2,164.3 L227.7,163.4 L229.2,163.1 L230.7,163.5 L232.2,164.6 L233.7,166.3 L235.2,168.6 L236.7,171.3 L238.2,174.5 L239.7,178.1 L241.2,181.8 L242.7,185.7 L244.2,189.7 L245.7,193.6 L247.2,197.4 L248.7,201.0 L250.2,204.5 L251.7,207.6 L253.2,210.5 L254.7,213.1 L256.2,215.4 L257.7,217.4 L259.2,219.1 L260.7,220.6 L262.2,221.8 L263.7,222.8 L265.2,223.7 L266.7,224.3 L268.2,224.9 L269.7,225.3 L271.2,225.6 L272.7,225.9 L274.2,226.1 L275.7,226.2 L277.2,226.3 L278.7,226.4 L280.2,226.5 L281.7,226.5" fill="none" stroke="#EBA00A" stroke-width="1.2"/>
<clipPath id="au"><path d="M38.7,226.3 L40.2,226.2 L41.7,226.1 L43.2,226.0 L44.7,225.8 L46.2,225.6 L47.7,225.3 L49.2,225.0 L50.7,224.6 L52.2,224.2 L53.7,223.6 L55.2,223.0 L56.7,222.2 L58.2,221.4 L59.7,220.4 L61.2,219.3 L62.7,218.0 L64.2,216.5 L65.7,214.8 L67.2,213.0 L68.7,211.0 L70.2,208.8 L71.7,206.4 L73.2,203.9 L74.7,201.1 L76.2,198.2 L77.7,195.2 L79.2,192.0 L80.7,188.8 L82.2,185.5 L83.7,182.3 L85.2,179.0 L86.7,175.8 L88.2,172.7 L89.7,169.8 L91.2,167.1 L92.7,164.6 L94.2,162.5 L95.7,160.6 L97.2,159.2 L98.7,158.1 L100.2,157.4 L101.7,157.1 L103.2,157.3 L104.7,157.8 L106.2,158.8 L107.7,160.2 L109.2,161.9 L110.7,164.0 L112.2,166.4 L113.7,169.1 L115.2,171.9 L116.7,175.0 L118.2,178.1 L119.7,181.4 L121.2,184.7 L122.7,188.0 L124.2,191.2 L125.7,188.1 L127.2,184.5 L128.7,180.8 L130.2,176.8 L131.7,172.7 L133.2,168.3 L134.7,163.8 L136.2,159.0 L137.7,154.2 L139.2,149.1 L140.7,143.9 L142.2,138.6 L143.7,133.2 L145.2,127.8 L146.7,122.2 L148.2,116.7 L149.7,111.1 L151.2,105.6 L152.7,100.2 L154.2,94.8 L155.7,89.6 L157.2,84.5 L158.7,79.7 L160.2,75.0 L161.7,70.7 L163.2,66.6 L164.7,62.8 L166.2,59.3 L167.7,56.3 L169.2,53.6 L170.7,51.3 L172.2,49.5 L173.7,48.1 L175.2,47.1 L176.7,46.7 L178.2,46.7 L179.7,47.1 L181.2,48.0 L182.7,49.4 L184.2,51.2 L185.7,53.4 L187.2,56.1 L188.7,59.1 L190.2,62.5 L191.7,66.3 L193.2,70.4 L194.7,74.7 L196.2,79.4 L197.7,84.2 L199.2,89.3 L200.7,94.5 L202.2,99.8 L203.7,105.3 L205.2,110.8 L206.7,116.3 L208.2,121.9 L209.7,127.4 L211.2,132.9 L212.7,138.3 L214.2,143.6 L215.7,148.8 L217.2,153.8 L218.7,158.7 L220.2,163.5 L221.7,168.0 L223.2,167.9 L224.7,165.8 L226.2,164.3 L227.7,163.4 L229.2,163.1 L230.7,163.5 L232.2,164.6 L233.7,166.3 L235.2,168.6 L236.7,171.3 L238.2,174.5 L239.7,178.1 L241.2,178.5 L242.7,175.9 L244.2,173.2 L245.7,170.4 L247.2,167.6 L248.7,164.7 L250.2,161.8 L251.7,158.9 L253.2,155.9 L254.7,153.0 L256.2,150.0 L257.7,147.0 L259.2,144.0 L260.7,141.0 L262.2,138.1 L263.7,135.2 L265.2,132.3 L266.7,129.5 L268.2,126.8 L269.7,124.1 L271.2,121.6 L272.7,119.1 L274.2,116.8 L275.7,114.5 L277.2,112.4 L278.7,110.4 L280.2,108.6 L281.7,106.9 L283.2,105.4 L284.7,104.0 L286.2,102.9 L287.7,101.9 L289.2,101.0 L290.7,100.4 L292.2,99.9 L293.7,99.7 L295.2,99.6 L296.7,99.7 L298.2,100.0 L299.7,100.5 L301.2,101.2 L302.7,102.1 L304.2,103.2 L305.7,104.4 L307.2,105.8 L308.7,107.4 L310.2,109.1 L311.7,110.9 L313.2,113.0 L314.7,115.1 L316.2,117.4 L317.7,119.8 L319.2,122.3 L320.7,124.8 L322.2,127.5 L323.7,130.3 L325.2,133.1 L326.7,136.0 L328.2,138.9 L329.7,141.8 L331.2,144.8 L332.7,147.8 L334.2,150.8 L335.7,153.8 L337.2,156.7 L338.7,159.7 L340.2,162.6 L341.7,165.5 L343.2,168.4 L344.7,171.2 L346.2,173.9 L347.7,176.6 L349.2,179.2 L350.7,181.8 L352.2,184.2 L353.7,186.6 L355.2,189.0 L356.7,191.2 L358.2,193.4 L359.7,195.4 L361.2,197.4 L362.7,199.3 L364.2,201.1 L365.7,202.9 L367.2,204.5 L368.7,206.1 L370.2,207.6 L371.7,209.0 L373.2,210.3 L374.7,211.5 L376.2,212.7 L377.7,213.8 L379.2,214.8 L380.7,215.8 L382.2,216.7 L383.7,217.5 L385.2,218.3 L386.7,219.0 L388.2,219.7 L389.7,220.3 L391.2,220.9 L392.7,221.4 L394.2,221.9 L395.7,222.4 L397.2,222.8 L398.7,223.2 L400.2,223.5 L401.7,223.8 L403.2,224.1 L404.7,224.4 L406.2,224.6 L407.7,224.8 L409.2,225.0 L410.7,225.2 L412.2,225.3 L413.7,225.5 L415.2,225.6 L416.7,225.7 L418.2,225.8 L419.7,225.9 L421.2,226.0 L422.7,226.1 L424.2,226.1 L425.7,226.2 L427.2,226.2 L428.7,226.3 L430.2,226.3 L431.7,226.4 L433.2,226.4 L434.7,226.4 L436.2,226.4 L437.7,226.5 L439.2,226.5 L440.7,226.5 L442.2,226.5 L443.7,226.5 L445.2,226.5 L446.7,226.5 L448.2,226.6 L449.7,226.6 L451.2,226.6 L452.7,226.6 L454.2,226.6 L455.7,226.6 L457.2,226.6 L458.7,226.6 L460.2,226.6 L461.7,226.6 L463.2,226.6 L464.7,226.6 L466.2,226.6 L467.7,226.6 L469.2,226.6 L470.7,226.6 L472.2,226.6 L473.7,226.6 L475.2,226.6 L476.7,226.6 L478.2,226.6 L479.7,226.6 L481.2,226.6 L482.7,226.6 L484.2,226.6 L485.7,226.6 L487.2,226.6 L488.7,226.6 L490.2,226.6 L491.7,226.6 L493.2,226.6 L494.7,226.6 L496.2,226.6 L497.7,226.6 L499.2,226.6 L500.7,226.6 L502.2,226.6 L503.7,226.6 L505.2,226.6 L506.7,226.6 L508.2,226.6 L509.7,226.6 L511.2,226.6 L512.7,226.6 L514.2,226.6 L515.7,226.6 L517.2,226.6 L518.7,226.6 L520.2,226.6 L521.7,226.6 L523.2,226.6 L524.7,226.6 L526.2,226.6 L527.7,226.6 L529.2,226.6 L530.7,226.6 L532.2,226.6 L533.7,226.6 L535.2,226.6 L536.7,226.6 L538.2,226.6 L539.7,226.6 L541.2,226.6 L542.0,226.6 L38.7,226.6 Z"/></clipPath>
<clipPath id="av"><path d="M38.7,226.3 L40.2,226.2 L41.7,226.1 L43.2,226.0 L44.7,225.8 L46.2,225.6 L47.7,225.3 L49.2,225.0 L50.7,224.6 L52.2,224.2 L53.7,223.6 L55.2,223.0 L56.7,222.2 L58.2,221.4 L59.7,220.4 L61.2,219.3 L62.7,218.0 L64.2,216.5 L65.7,214.8 L67.2,213.0 L68.7,211.0 L70.2,208.8 L71.7,206.4 L73.2,203.9 L74.7,201.1 L76.2,198.2 L77.7,195.2 L79.2,192.0 L80.7,188.8 L82.2,185.5 L83.7,182.3 L85.2,179.0 L86.7,175.8 L88.2,172.7 L89.7,169.8 L91.2,167.1 L92.7,164.6 L94.2,162.5 L95.7,160.6 L97.2,159.2 L98.7,158.1 L100.2,157.4 L101.7,157.1 L103.2,157.3 L104.7,157.8 L106.2,158.8 L107.7,160.2 L109.2,161.9 L110.7,164.0 L112.2,166.4 L113.7,169.1 L115.2,171.9 L116.7,175.0 L118.2,178.1 L119.7,181.4 L121.2,184.7 L122.7,188.0 L124.2,191.2 L125.7,188.1 L127.2,184.5 L128.7,180.8 L130.2,176.8 L131.7,172.7 L133.2,168.3 L134.7,163.8 L136.2,159.0 L137.7,154.2 L139.2,149.1 L140.7,143.9 L142.2,138.6 L143.7,133.2 L145.2,127.8 L146.7,122.2 L148.2,116.7 L149.7,111.1 L151.2,105.6 L152.7,100.2 L154.2,94.8 L155.7,89.6 L157.2,84.5 L158.7,79.7 L160.2,75.0 L161.7,70.7 L163.2,66.6 L164.7,62.8 L166.2,59.3 L167.7,56.3 L169.2,53.6 L170.7,51.3 L172.2,49.5 L173.7,48.1 L175.2,47.1 L176.7,46.7 L178.2,46.7 L179.7,47.1 L181.2,48.0 L182.7,49.4 L184.2,51.2 L185.7,53.4 L187.2,56.1 L188.7,59.1 L190.2,62.5 L191.7,66.3 L193.2,70.4 L194.7,74.7 L196.2,79.4 L197.7,84.2 L199.2,89.3 L200.7,94.5 L202.2,99.8 L203.7,105.3 L205.2,110.8 L206.7,116.3 L208.2,121.9 L209.7,127.4 L211.2,132.9 L212.7,138.3 L214.2,143.6 L215.7,148.8 L217.2,153.8 L218.7,158.7 L220.2,163.5 L221.7,168.0 L223.2,167.9 L224.7,165.8 L226.2,164.3 L227.7,163.4 L229.2,163.1 L230.7,163.5 L232.2,164.6 L233.7,166.3 L235.2,168.6 L236.7,171.3 L238.2,174.5 L239.7,178.1 L241.2,178.5 L242.7,175.9 L244.2,173.2 L245.7,170.4 L247.2,167.6 L248.7,164.7 L250.2,161.8 L251.7,158.9 L253.2,155.9 L254.7,153.0 L256.2,150.0 L257.7,147.0 L259.2,144.0 L260.7,141.0 L262.2,138.1 L263.7,135.2 L265.2,132.3 L266.7,129.5 L268.2,126.8 L269.7,124.1 L271.2,121.6 L272.7,119.1 L274.2,116.8 L275.7,114.5 L277.2,112.4 L278.7,110.4 L280.2,108.6 L281.7,106.9 L283.2,105.4 L284.7,104.0 L286.2,102.9 L287.7,101.9 L289.2,101.0 L290.7,100.4 L292.2,99.9 L293.7,99.7 L295.2,99.6 L296.7,99.7 L298.2,100.0 L299.7,100.5 L301.2,101.2 L302.7,102.1 L304.2,103.2 L305.7,104.4 L307.2,105.8 L308.7,107.4 L310.2,109.1 L311.7,110.9 L313.2,113.0 L314.7,115.1 L316.2,117.4 L317.7,119.8 L319.2,122.3 L320.7,124.8 L322.2,127.5 L323.7,130.3 L325.2,133.1 L326.7,136.0 L328.2,138.9 L329.7,141.8 L331.2,144.8 L332.7,147.8 L334.2,150.8 L335.7,153.8 L337.2,156.7 L338.7,159.7 L340.2,162.6 L341.7,165.5 L343.2,168.4 L344.7,171.2 L346.2,173.9 L347.7,176.6 L349.2,179.2 L350.7,181.8 L352.2,184.2 L353.7,183.6 L355.2,182.6 L356.7,181.7 L358.2,180.7 L359.7,179.7 L361.2,178.7 L362.7,177.8 L364.2,176.9 L365.7,175.9 L367.2,175.0 L368.7,174.1 L370.2,173.3 L371.7,172.4 L373.2,171.6 L374.7,170.8 L376.2,170.1 L377.7,169.3 L379.2,168.6 L380.7,168.0 L382.2,167.3 L383.7,166.7 L385.2,166.1 L386.7,165.6 L388.2,165.1 L389.7,164.6 L391.2,164.2 L392.7,163.8 L394.2,163.4 L395.7,163.1 L397.2,162.8 L398.7,162.6 L400.2,162.4 L401.7,162.3 L403.2,162.2 L404.7,162.1 L406.2,162.1 L407.7,162.1 L409.2,162.2 L410.7,162.3 L412.2,162.4 L413.7,162.6 L415.2,162.9 L416.7,163.1 L418.2,163.4 L419.7,163.8 L421.2,164.1 L422.7,164.6 L424.2,165.0 L425.7,165.5 L427.2,166.0 L428.7,166.6 L430.2,167.1 L431.7,167.8 L433.2,168.4 L434.7,169.1 L436.2,169.8 L437.7,170.5 L439.2,171.3 L440.7,172.0 L442.2,172.8 L443.7,173.7 L445.2,174.5 L446.7,175.4 L448.2,176.2 L449.7,177.1 L451.2,178.0 L452.7,179.0 L454.2,179.9 L455.7,180.8 L457.2,181.8 L458.7,182.7 L460.2,183.7 L461.7,184.7 L463.2,185.7 L464.7,186.6 L466.2,187.6 L467.7,188.6 L469.2,189.6 L470.7,190.5 L472.2,191.5 L473.7,192.5 L475.2,193.4 L476.7,194.4 L478.2,195.3 L479.7,196.3 L481.2,197.2 L482.7,198.1 L484.2,199.0 L485.7,199.9 L487.2,200.8 L488.7,201.7 L490.2,202.5 L491.7,203.3 L493.2,204.2 L494.7,205.0 L496.2,205.8 L497.7,206.5 L499.2,207.3 L500.7,208.0 L502.2,208.8 L503.7,209.5 L505.2,210.2 L506.7,210.8 L508.2,211.5 L509.7,212.1 L511.2,212.7 L512.7,213.3 L514.2,213.9 L515.7,214.5 L517.2,215.0 L518.7,215.5 L520.2,216.1 L521.7,216.6 L523.2,217.0 L524.7,217.5 L526.2,217.9 L527.7,218.4 L529.2,218.8 L530.7,219.2 L532.2,219.5 L533.7,219.9 L535.2,220.3 L536.7,220.6 L538.2,220.9 L539.7,221.2 L541.2,221.5 L542.0,226.6 L38.7,226.6 Z"/></clipPath>
<path d="M38.7,226.3 L40.2,226.2 L41.7,226.1 L43.2,225.9 L44.7,225.8 L46.2,225.6 L47.7,225.3 L49.2,225.0 L50.7,224.6 L52.2,224.1 L53.7,223.6 L55.2,223.0 L56.7,222.2 L58.2,221.3 L59.7,220.3 L61.2,219.1 L62.7,217.8 L64.2,216.3 L65.7,214.6 L67.2,212.7 L68.7,210.5 L70.2,208.2 L71.7,205.6 L73.2,202.8 L74.7,199.8 L76.2,196.6 L77.7,193.3 L79.2,189.8 L80.7,186.3 L82.2,182.8 L83.7,179.3 L85.2,175.9 L86.7,172.5 L88.2,169.3 L89.7,166.3 L91.2,163.4 L92.7,160.8 L94.2,158.4 L95.7,156.2 L97.2,154.4 L98.7,152.8 L100.2,151.5 L101.7,150.6 L103.2,150.1 L104.7,149.8 L106.2,149.9 L107.7,150.4 L109.2,151.0 L110.7,152.0 L112.2,153.1 L113.7,154.3 L115.2,155.6 L116.7,156.8 L118.2,157.9 L119.7,158.8 L121.2,159.5 L122.7,159.9 L124.2,159.9 L125.7,159.5 L127.2,158.7 L128.7,157.6 L130.2,156.0 L131.7,154.0 L133.2,151.7 L134.7,149.1 L136.2,146.1 L137.7,142.8 L139.2,139.2 L140.7,135.3 L142.2,131.2 L143.7,126.9 L145.2,122.4 L146.7,117.7 L148.2,112.9 L149.7,107.9 L151.2,103.0 L152.7,97.9 L154.2,93.0 L155.7,88.0 L157.2,83.2 L158.7,78.5 L160.2,74.1 L161.7,69.8 L163.2,65.7 L164.7,62.0 L166.2,58.6 L167.7,55.5 L169.2,52.8 L170.7,50.5 L172.2,48.5 L173.7,47.0 L175.2,46.0 L176.7,45.3 L178.2,45.1 L179.7,45.3 L181.2,46.0 L182.7,47.0 L184.2,48.3 L185.7,50.0 L187.2,52.0 L188.7,54.2 L190.2,56.5 L191.7,58.9 L193.2,61.4 L194.7,63.9 L196.2,66.3 L197.7,68.6 L199.2,70.9 L200.7,73.0 L202.2,75.0 L203.7,77.0 L205.2,78.8 L206.7,80.6 L208.2,82.3 L209.7,83.8 L211.2,85.1 L212.7,86.3 L214.2,87.3 L215.7,88.0 L217.2,88.6 L218.7,89.0 L220.2,89.4 L221.7,89.7 L223.2,90.1 L224.7,90.7 L226.2,91.4 L227.7,92.5 L229.2,93.9 L230.7,95.7 L232.2,97.8 L233.7,100.2 L235.2,102.9 L236.7,105.8 L238.2,108.9 L239.7,112.0 L241.2,115.1 L242.7,118.1 L244.2,121.0 L245.7,123.6 L247.2,125.9 L248.7,127.8 L250.2,129.4 L251.7,130.5 L253.2,131.3 L254.7,131.6 L256.2,131.5 L257.7,131.0 L259.2,130.2 L260.7,129.1 L262.2,127.7 L263.7,126.1 L265.2,124.3 L266.7,122.4 L268.2,120.3 L269.7,118.2 L271.2,116.1 L272.7,113.9 L274.2,111.8 L275.7,109.8 L277.2,107.8 L278.7,105.8 L280.2,104.0 L281.7,102.3 L283.2,100.7 L284.7,99.3 L286.2,98.0 L287.7,96.8 L289.2,95.8 L290.7,94.9 L292.2,94.2 L293.7,93.7 L295.2,93.2 L296.7,93.0 L298.2,92.9 L299.7,92.9 L301.2,93.1 L302.7,93.4 L304.2,93.9 L305.7,94.5 L307.2,95.3 L308.7,96.2 L310.2,97.3 L311.7,98.4 L313.2,99.7 L314.7,101.1 L316.2,102.7 L317.7,104.3 L319.2,106.0 L320.7,107.8 L322.2,109.6 L323.7,111.6 L325.2,113.5 L326.7,115.5 L328.2,117.5 L329.7,119.5 L331.2,121.5 L332.7,123.5 L334.2,125.5 L335.7,127.5 L337.2,129.4 L338.7,131.2 L340.2,133.0 L341.7,134.7 L343.2,136.4 L344.7,138.0 L346.2,139.6 L347.7,141.0 L349.2,142.4 L350.7,143.7 L352.2,145.0 L353.7,146.2 L355.2,147.3 L356.7,148.3 L358.2,149.3 L359.7,150.2 L361.2,151.1 L362.7,151.8 L364.2,152.6 L365.7,153.2 L367.2,153.8 L368.7,154.4 L370.2,154.9 L371.7,155.4 L373.2,155.8 L374.7,156.2 L376.2,156.5 L377.7,156.8 L379.2,157.1 L380.7,157.3 L382.2,157.6 L383.7,157.8 L385.2,157.9 L386.7,158.1 L388.2,158.2 L389.7,158.4 L391.2,158.5 L392.7,158.6 L394.2,158.8 L395.7,158.9 L397.2,159.0 L398.7,159.2 L400.2,159.3 L401.7,159.5 L403.2,159.7 L404.7,159.9 L406.2,160.1 L407.7,160.3 L409.2,160.6 L410.7,160.9 L412.2,161.2 L413.7,161.5 L415.2,161.9 L416.7,162.2 L418.2,162.6 L419.7,163.1 L421.2,163.5 L422.7,164.0 L424.2,164.5 L425.7,165.1 L427.2,165.6 L428.7,166.2 L430.2,166.9 L431.7,167.5 L433.2,168.2 L434.7,168.9 L436.2,169.6 L437.7,170.4 L439.2,171.1 L440.7,171.9 L442.2,172.7 L443.7,173.6 L445.2,174.4 L446.7,175.3 L448.2,176.2 L449.7,177.1 L451.2,178.0 L452.7,178.9 L454.2,179.9 L455.7,180.8 L457.2,181.8 L458.7,182.7 L460.2,183.7 L461.7,184.7 L463.2,185.6 L464.7,186.6 L466.2,187.6 L467.7,188.6 L469.2,189.6 L470.7,190.5 L472.2,191.5 L473.7,192.5 L475.2,193.4 L476.7,194.4 L478.2,195.3 L479.7,196.3 L481.2,197.2 L482.7,198.1 L484.2,199.0 L485.7,199.9 L487.2,200.8 L488.7,201.7 L490.2,202.5 L491.7,203.3 L493.2,204.2 L494.7,205.0 L496.2,205.8 L497.7,206.5 L499.2,207.3 L500.7,208.0 L502.2,208.8 L503.7,209.5 L505.2,210.2 L506.7,210.8 L508.2,211.5 L509.7,212.1 L511.2,212.7 L512.7,213.3 L514.2,213.9 L515.7,214.5 L517.2,215.0 L518.7,215.5 L520.2,216.1 L521.7,216.6 L523.2,217.0 L524.7,217.5 L526.2,217.9 L527.7,218.4 L529.2,218.8 L530.7,219.2 L532.2,219.5 L533.7,219.9 L535.2,220.3 L536.7,220.6 L538.2,220.9 L539.7,221.2 L541.2,221.5" fill="none" stroke="#000" stroke-width="2.35" stroke-dasharray="9.5 10.5" stroke-dashoffset="3.1" stroke-opacity="0.12" clip-path="url(#au)"/>
<path d="M39.0,225.5 L40.2,224.6 L41.9,223.5 L44.0,222.0 L46.1,220.5 L48.1,218.9 L50.1,217.3 L52.1,215.5 L54.1,213.6 L56.2,211.7 L58.2,209.8 L60.3,207.8 L62.3,205.7 L64.4,203.6 L66.4,201.5 L68.3,199.7 L70.0,198.1 L71.7,196.7 L73.3,195.4 L74.8,194.0 L76.4,192.6 L78.0,191.1 L79.6,189.5 L81.3,187.9 L82.9,186.2 L84.5,184.5 L86.2,182.8 L87.8,181.1 L89.5,179.3 L91.1,177.5 L92.6,175.5 L93.9,173.4 L95.2,171.1 L96.4,168.8 L97.5,166.5 L98.6,164.3 L99.7,162.1 L100.8,159.9 L101.8,157.7 L102.8,155.8 L103.7,154.2 L104.6,153.0 L105.3,152.0 L106.1,151.2 L106.8,150.7 L107.7,150.4 L108.6,150.3 L109.6,150.3 L110.6,150.6 L111.7,151.1 L112.8,151.8 L113.9,152.8 L115.1,154.1 L116.3,155.5 L117.6,157.0 L118.8,158.3 L120.0,159.6 L121.3,160.8 L122.6,162.0 L123.8,163.1 L124.9,163.9 L125.9,164.5 L126.8,164.8 L127.6,165.0 L128.4,164.9 L129.3,164.7 L130.3,164.3 L131.3,163.7 L132.3,162.9 L133.2,161.8 L134.0,160.3 L134.6,158.3 L134.9,155.9 L135.2,153.3 L135.6,150.6 L136.2,148.0 L137.1,145.6 L138.1,143.3 L139.2,140.9 L140.3,138.5 L141.4,136.0 L142.4,133.3 L143.4,130.5 L144.4,127.7 L145.4,124.8 L146.3,122.0 L147.2,119.2 L148.1,116.4 L149.0,113.6 L149.8,110.8 L150.7,108.0 L151.6,105.2 L152.4,102.4 L153.2,99.6 L154.1,96.8 L154.9,94.0 L155.7,91.2 L156.6,88.4 L157.4,85.6 L158.3,82.8 L159.2,80.0 L160.2,77.1 L161.1,74.2 L162.2,71.3 L163.1,68.5 L164.1,66.0 L164.9,63.7 L165.6,61.7 L166.4,59.8 L167.3,57.9 L168.4,56.0 L169.9,53.9 L171.7,51.6 L173.6,49.4 L175.5,47.7 L177.3,46.8 L179.0,46.7 L180.5,47.1 L182.1,48.1 L183.8,49.6 L185.6,51.5 L187.7,54.1 L190.0,57.4 L192.3,61.0 L194.6,64.5 L196.7,67.4 L198.5,69.6 L200.0,71.4 L201.5,73.0 L203.0,74.7 L204.7,76.5 L206.6,78.7 L208.7,81.0 L210.8,83.4 L212.9,85.6 L214.8,87.6 L216.5,89.3 L218.2,90.7 L219.8,92.0 L221.3,93.2 L222.9,94.2 L224.6,95.1 L226.4,96.0 L228.1,96.7 L229.7,97.2 L231.0,97.7 L231.9,98.0 L232.5,98.0 L232.9,97.9 L233.4,98.0 L234.1,98.4 L235.1,99.0 L236.3,99.8 L237.6,100.8 L238.9,101.9 L240.2,103.4 L241.4,105.2 L242.6,107.3 L243.9,109.5 L245.1,112.0 L246.3,114.5 L247.5,117.2 L248.8,120.2 L250.0,123.2 L251.2,126.1 L252.3,128.7 L253.4,130.9 L254.5,133.0 L255.5,134.8 L256.5,136.5 L257.4,137.8 L258.3,139.0 L259.0,140.1 L259.8,140.8 L260.5,141.1 L261.4,140.8 L262.3,139.8 L263.3,138.3 L264.3,136.2 L265.4,133.7 L266.5,130.7 L267.6,127.0 L268.8,122.5 L270.0,117.7 L271.3,112.9 L272.5,108.5 L273.7,104.4 L274.9,100.4 L276.2,96.5 L277.4,93.1 L278.6,90.3 L279.8,88.2 L281.1,86.7 L282.3,85.6 L283.5,84.8 L284.6,84.2 L285.5,83.7 L286.3,83.5 L287.0,83.5 L287.8,83.8 L288.7,84.2 L289.7,84.9 L290.8,85.8 L291.9,86.9 L293.2,88.1 L294.7,89.3 L296.5,90.4 L298.4,91.6 L300.6,92.8 L302.7,94.0 L304.8,95.4 L306.8,96.8 L308.8,98.4 L310.9,100.0 L312.9,101.6 L314.9,103.4 L316.9,105.2 L318.9,107.1 L320.9,109.0 L323.0,111.1 L325.1,113.5 L327.3,116.3 L329.7,119.5 L332.0,122.8 L334.3,125.9 L336.4,128.5 L338.3,130.5 L340.1,132.2 L341.8,133.5 L343.5,134.8 L345.2,136.2 L346.9,137.6 L348.7,139.0 L350.4,140.3 L352.2,141.6 L354.1,142.8 L356.2,144.0 L358.3,145.1 L360.6,146.2 L362.9,147.2 L365.1,148.3 L367.3,149.4 L369.5,150.6 L371.7,151.7 L373.9,152.8 L376.1,153.8 L378.3,154.8 L380.5,155.7 L382.7,156.6 L384.9,157.5 L387.1,158.2 L389.3,158.8 L391.5,159.4 L393.6,159.8 L395.8,160.2 L398.1,160.6 L400.3,160.9 L402.3,161.0 L404.5,161.1 L407.0,161.3 L410.0,161.8 L413.8,162.5 L418.1,163.3 L422.7,164.3 L427.3,165.4 L431.6,166.7 L435.5,168.2 L439.3,169.9 L443.0,171.8 L446.5,173.7 L450.0,175.5 L453.3,177.2 L456.4,178.9 L459.5,180.5 L462.6,182.3 L466.0,184.2 L469.6,186.3 L473.4,188.6 L477.3,191.0 L481.2,193.3 L485.0,195.6 L488.8,197.8 L492.6,200.0 L496.4,202.1 L500.2,204.2 L504.0,206.2 L507.9,208.1 L511.9,210.0 L515.9,211.8 L519.6,213.5 L523.0,215.0 L525.9,216.3 L528.5,217.3 L530.9,218.2 L533.0,219.1 L535.0,219.9 L536.8,220.7 L538.5,221.5 L539.9,222.2 L541.1,222.8 L542.0,223.2" fill="none" stroke="#1870E6" stroke-width="2.9" stroke-opacity="0.33" clip-path="url(#av)"/>
<line x1="38.7" y1="226.6" x2="542.0" y2="226.6" stroke="#E6A00A" stroke-width="2.2"/></g>
<g clip-path="url(#cb)"><path d="M39.0,384.9 L40.2,384.0 L41.9,382.6 L44.0,381.1 L46.1,379.4 L48.1,377.8 L50.1,376.2 L52.1,374.6 L54.1,372.9 L56.2,371.3 L58.2,369.7 L60.2,368.2 L62.2,366.8 L64.3,365.5 L66.3,364.1 L68.3,362.7 L70.4,361.3 L72.5,359.9 L74.6,358.4 L76.6,357.0 L78.4,355.6 L80.0,354.2 L81.5,352.9 L82.8,351.6 L84.1,350.1 L85.5,348.5 L86.9,346.6 L88.4,344.5 L89.8,342.4 L91.3,340.3 L92.6,338.4 L93.9,336.8 L95.1,335.2 L96.2,333.8 L97.4,332.6 L98.6,331.4 L99.8,330.3 L100.9,329.4 L102.1,328.6 L103.4,327.9 L104.7,327.3 L106.2,326.9 L107.8,326.6 L109.5,326.4 L111.2,326.3 L112.8,326.3 L114.4,326.4 L116.1,326.7 L117.7,327.0 L119.3,327.4 L120.8,327.7 L122.2,328.0 L123.4,328.3 L124.6,328.6 L125.8,328.8 L126.9,328.9 L128.0,328.9 L129.0,328.9 L130.0,328.8 L131.0,328.3 L132.0,327.3 L133.1,325.6 L134.4,323.2 L135.6,320.6 L136.7,318.1 L137.7,316.0 L138.5,314.5 L139.1,313.4 L139.7,312.4 L140.3,311.4 L141.0,310.0 L141.8,308.3 L142.8,306.3 L143.7,304.2 L144.7,302.1 L145.6,300.0 L146.5,298.0 L147.3,296.0 L148.2,294.0 L149.0,292.0 L149.9,290.0 L150.8,288.0 L151.7,286.0 L152.6,284.0 L153.5,282.0 L154.4,280.0 L155.4,278.0 L156.3,275.9 L157.3,273.9 L158.3,271.9 L159.3,270.0 L160.2,268.2 L161.2,266.5 L162.1,264.9 L163.0,263.4 L164.1,262.0 L165.3,260.7 L166.5,259.5 L167.8,258.4 L169.1,257.4 L170.4,256.7 L171.8,256.2 L173.2,255.8 L174.6,255.6 L176.1,255.5 L177.5,255.7 L178.9,256.1 L180.4,256.6 L181.8,257.3 L183.2,258.2 L184.5,259.1 L185.7,260.1 L186.9,261.2 L188.1,262.5 L189.3,263.8 L190.6,265.2 L192.1,266.7 L193.7,268.4 L195.4,270.1 L197.0,271.8 L198.7,273.3 L200.3,274.7 L201.9,275.9 L203.6,277.1 L205.2,278.3 L206.8,279.3 L208.4,280.2 L209.9,281.0 L211.5,281.8 L213.1,282.6 L214.8,283.4 L216.7,284.3 L218.9,285.4 L221.0,286.4 L223.1,287.4 L224.9,288.4 L226.4,289.4 L227.7,290.3 L228.8,291.3 L229.9,292.2 L231.1,293.0 L232.3,293.7 L233.5,294.3 L234.7,294.8 L235.9,295.5 L237.1,296.3 L238.3,297.3 L239.5,298.3 L240.8,299.5 L242.0,300.8 L243.2,302.3 L244.4,304.1 L245.6,306.1 L246.8,308.2 L248.0,310.4 L249.2,312.4 L250.4,314.4 L251.7,316.4 L252.9,318.3 L254.1,320.1 L255.3,321.5 L256.4,322.6 L257.4,323.5 L258.4,324.1 L259.4,324.6 L260.4,324.9 L261.4,325.1 L262.4,325.2 L263.4,325.2 L264.4,324.9 L265.4,324.5 L266.4,323.9 L267.5,323.1 L268.5,322.2 L269.5,321.0 L270.5,319.5 L271.4,317.7 L272.2,315.5 L273.0,313.1 L273.7,310.7 L274.5,308.4 L275.3,306.3 L276.0,304.1 L276.8,302.0 L277.6,300.0 L278.5,298.3 L279.4,296.8 L280.4,295.4 L281.4,294.2 L282.5,293.1 L283.6,292.2 L284.7,291.5 L285.9,291.0 L287.1,290.6 L288.4,290.3 L289.6,290.2 L290.7,290.2 L291.8,290.3 L293.0,290.5 L294.2,290.8 L295.7,291.2 L297.5,291.7 L299.5,292.4 L301.6,293.1 L303.7,293.8 L305.8,294.6 L307.8,295.4 L309.8,296.1 L311.9,296.9 L313.9,297.8 L315.9,298.7 L317.9,299.7 L320.0,300.8 L322.0,302.0 L324.1,303.1 L326.0,304.3 L327.9,305.5 L329.8,306.8 L331.7,308.1 L333.4,309.3 L334.9,310.4 L336.1,311.3 L336.9,312.0 L337.7,312.7 L338.6,313.5 L340.0,314.5 L341.9,315.8 L344.1,317.4 L346.6,319.1 L349.1,320.7 L351.5,322.1 L353.7,323.3 L355.9,324.5 L358.1,325.6 L360.4,326.6 L362.9,327.5 L365.6,328.4 L368.6,329.2 L371.6,330.0 L374.8,330.7 L378.2,331.3 L381.8,331.7 L385.6,332.1 L389.5,332.3 L393.4,332.5 L397.3,332.8 L401.2,333.1 L405.1,333.4 L409.0,333.7 L412.8,334.0 L416.4,334.4 L419.8,334.9 L422.9,335.5 L426.0,336.1 L428.9,336.8 L431.6,337.4 L434.1,337.9 L436.4,338.4 L438.6,338.9 L440.7,339.5 L443.0,340.2 L445.3,341.0 L447.6,341.9 L450.0,342.9 L452.4,344.0 L455.0,345.3 L457.8,346.8 L460.8,348.5 L463.9,350.3 L467.0,352.2 L470.0,354.0 L473.0,355.9 L476.0,357.8 L479.0,359.7 L482.0,361.6 L485.0,363.5 L488.0,365.3 L491.0,367.2 L494.0,369.0 L497.0,370.7 L500.0,372.4 L503.0,374.0 L506.0,375.6 L509.0,377.2 L512.0,378.6 L515.0,380.0 L518.0,381.3 L521.1,382.6 L524.2,383.7 L527.2,384.8 L530.0,385.6 L532.8,386.2 L535.7,386.6 L538.5,386.9 L540.8,387.0 L542.4,387.2" fill="none" stroke="#F83A3A" stroke-width="2.9" stroke-linejoin="round" stroke-linecap="round"/>
<path d="M271.2,388.6 L272.7,388.6 L274.2,388.6 L275.7,388.5 L277.2,388.5 L278.7,388.5 L280.2,388.5 L281.7,388.5 L283.2,388.4 L284.7,388.4 L286.2,388.4 L287.7,388.3 L289.2,388.3 L290.7,388.2 L292.2,388.2 L293.7,388.1 L295.2,388.1 L296.7,388.0 L298.2,387.9 L299.7,387.9 L301.2,387.8 L302.7,387.7 L304.2,387.6 L305.7,387.5 L307.2,387.4 L308.7,387.2 L310.2,387.1 L311.7,387.0 L313.2,386.8 L314.7,386.7 L316.2,386.5 L317.7,386.3 L319.2,386.1 L320.7,385.9 L322.2,385.6 L323.7,385.4 L325.2,385.1 L326.7,384.8 L328.2,384.5 L329.7,384.2 L331.2,383.9 L332.7,383.5 L334.2,383.2 L335.7,382.8 L337.2,382.4 L338.7,381.9 L340.2,381.5 L341.7,381.0 L343.2,380.5 L344.7,380.0 L346.2,379.4 L347.7,378.9 L349.2,378.3 L350.7,377.7 L352.2,377.0 L353.7,376.3 L355.2,375.7 L356.7,375.0 L358.2,374.2 L359.7,373.5 L361.2,372.7 L362.7,371.9 L364.2,371.1 L365.7,370.2 L367.2,369.4 L368.7,368.5 L370.2,367.6 L371.7,366.7 L373.2,365.8 L374.7,364.9 L376.2,364.0 L377.7,363.0 L379.2,362.1 L380.7,361.1 L382.2,360.1 L383.7,359.2 L385.2,358.2 L386.7,357.3 L388.2,356.3 L389.7,355.4 L391.2,354.5 L392.7,353.6 L394.2,352.7 L395.7,351.8 L397.2,350.9 L398.7,350.1 L400.2,349.3 L401.7,348.5 L403.2,347.7 L404.7,347.0 L406.2,346.3 L407.7,345.7 L409.2,345.1 L410.7,344.5 L412.2,344.0 L413.7,343.5 L415.2,343.0 L416.7,342.6 L418.2,342.3 L419.7,342.0 L421.2,341.8 L422.7,341.6 L424.2,341.4 L425.7,341.3 L427.2,341.3 L428.7,341.3 L430.2,341.4 L431.7,341.5 L433.2,341.6 L434.7,341.8 L436.2,342.1 L437.7,342.4 L439.2,342.7 L440.7,343.1 L442.2,343.5 L443.7,344.0 L445.2,344.5 L446.7,345.0 L448.2,345.6 L449.7,346.2 L451.2,346.8 L452.7,347.5 L454.2,348.2 L455.7,349.0 L457.2,349.7 L458.7,350.5 L460.2,351.3 L461.7,352.1 L463.2,353.0 L464.7,353.8 L466.2,354.7 L467.7,355.6 L469.2,356.5 L470.7,357.4 L472.2,358.3 L473.7,359.2 L475.2,360.1 L476.7,361.0 L478.2,361.9 L479.7,362.8 L481.2,363.7 L482.7,364.6 L484.2,365.5 L485.7,366.3 L487.2,367.2 L488.7,368.0 L490.2,368.9 L491.7,369.7 L493.2,370.5 L494.7,371.3 L496.2,372.0 L497.7,372.8 L499.2,373.5 L500.7,374.2 L502.2,374.9 L503.7,375.6 L505.2,376.3 L506.7,376.9 L508.2,377.5 L509.7,378.1 L511.2,378.7 L512.7,379.2 L514.2,379.7 L515.7,380.2 L517.2,380.7 L518.7,381.2 L520.2,381.6 L521.7,382.1 L523.2,382.5 L524.7,382.9 L526.2,383.2 L527.7,383.6 L529.2,383.9 L530.7,384.2 L532.2,384.5 L533.7,384.8 L535.2,385.1 L536.7,385.3 L538.2,385.6 L539.7,385.8 L541.2,386.0 L541.2,388.7 L271.2,388.7 Z" fill="#FF821E"/>
<path d="M271.2,388.6 L272.7,388.6 L274.2,388.6 L275.7,388.5 L277.2,388.5 L278.7,388.5 L280.2,388.5 L281.7,388.5 L283.2,388.4 L284.7,388.4 L286.2,388.4 L287.7,388.3 L289.2,388.3 L290.7,388.2 L292.2,388.2 L293.7,388.1 L295.2,388.1 L296.7,388.0 L298.2,387.9 L299.7,387.9 L301.2,387.8 L302.7,387.7 L304.2,387.6 L305.7,387.5 L307.2,387.4 L308.7,387.2 L310.2,387.1 L311.7,387.0 L313.2,386.8 L314.7,386.7 L316.2,386.5 L317.7,386.3 L319.2,386.1 L320.7,385.9 L322.2,385.6 L323.7,385.4 L325.2,385.1 L326.7,384.8 L328.2,384.5 L329.7,384.2 L331.2,383.9 L332.7,383.5 L334.2,383.2 L335.7,382.8 L337.2,382.4 L338.7,381.9 L340.2,381.5 L341.7,381.0 L343.2,380.5 L344.7,380.0 L346.2,379.4 L347.7,378.9 L349.2,378.3 L350.7,377.7 L352.2,377.0 L353.7,376.3 L355.2,375.7 L356.7,375.0 L358.2,374.2 L359.7,373.5 L361.2,372.7 L362.7,371.9 L364.2,371.1 L365.7,370.2 L367.2,369.4 L368.7,368.5 L370.2,367.6 L371.7,366.7 L373.2,365.8 L374.7,364.9 L376.2,364.0 L377.7,363.0 L379.2,362.1 L380.7,361.1 L382.2,360.1 L383.7,359.2 L385.2,358.2 L386.7,357.3 L388.2,356.3 L389.7,355.4 L391.2,354.5 L392.7,353.6 L394.2,352.7 L395.7,351.8 L397.2,350.9 L398.7,350.1 L400.2,349.3 L401.7,348.5 L403.2,347.7 L404.7,347.0 L406.2,346.3 L407.7,345.7 L409.2,345.1 L410.7,344.5 L412.2,344.0 L413.7,343.5 L415.2,343.0 L416.7,342.6 L418.2,342.3 L419.7,342.0 L421.2,341.8 L422.7,341.6 L424.2,341.4 L425.7,341.3 L427.2,341.3 L428.7,341.3 L430.2,341.4 L431.7,341.5 L433.2,341.6 L434.7,341.8 L436.2,342.1 L437.7,342.4 L439.2,342.7 L440.7,343.1 L442.2,343.5 L443.7,344.0 L445.2,344.5 L446.7,345.0 L448.2,345.6 L449.7,346.2 L451.2,346.8 L452.7,347.5 L454.2,348.2 L455.7,349.0 L457.2,349.7 L458.7,350.5 L460.2,351.3 L461.7,352.1 L463.2,353.0 L464.7,353.8 L466.2,354.7 L467.7,355.6 L469.2,356.5 L470.7,357.4 L472.2,358.3 L473.7,359.2 L475.2,360.1 L476.7,361.0 L478.2,361.9 L479.7,362.8 L481.2,363.7 L482.7,364.6 L484.2,365.5 L485.7,366.3 L487.2,367.2 L488.7,368.0 L490.2,368.9 L491.7,369.7 L493.2,370.5 L494.7,371.3 L496.2,372.0 L497.7,372.8 L499.2,373.5 L500.7,374.2 L502.2,374.9 L503.7,375.6 L505.2,376.3 L506.7,376.9 L508.2,377.5 L509.7,378.1 L511.2,378.7 L512.7,379.2 L514.2,379.7 L515.7,380.2 L517.2,380.7 L518.7,381.2 L520.2,381.6 L521.7,382.1 L523.2,382.5 L524.7,382.9 L526.2,383.2 L527.7,383.6 L529.2,383.9 L530.7,384.2 L532.2,384.5 L533.7,384.8 L535.2,385.1 L536.7,385.3 L538.2,385.6 L539.7,385.8 L541.2,386.0" fill="none" stroke="#FA7814" stroke-width="1.2"/>
<path d="M38.7,388.0 L40.2,387.8 L41.7,387.7 L43.2,387.5 L44.7,387.2 L46.2,386.9 L47.7,386.6 L49.2,386.2 L50.7,385.7 L52.2,385.2 L53.7,384.6 L55.2,384.0 L56.7,383.2 L58.2,382.4 L59.7,381.4 L61.2,380.4 L62.7,379.2 L64.2,377.9 L65.7,376.5 L67.2,374.9 L68.7,373.3 L70.2,371.4 L71.7,369.5 L73.2,367.4 L74.7,365.2 L76.2,362.9 L77.7,360.5 L79.2,358.0 L80.7,355.5 L82.2,353.0 L83.7,350.5 L85.2,348.1 L86.7,345.7 L88.2,343.3 L89.7,341.1 L91.2,339.0 L92.7,337.0 L94.2,335.2 L95.7,333.5 L97.2,331.9 L98.7,330.5 L100.2,329.2 L101.7,328.0 L103.2,327.1 L104.7,326.2 L106.2,325.6 L107.7,325.0 L109.2,324.6 L110.7,324.4 L112.2,324.2 L113.7,324.2 L115.2,324.2 L116.7,324.3 L118.2,324.4 L119.7,324.4 L121.2,324.5 L122.7,324.5 L124.2,324.3 L125.7,324.1 L127.2,323.7 L128.7,323.2 L130.2,322.4 L131.7,321.5 L133.2,320.3 L134.7,318.9 L136.2,317.3 L137.7,315.4 L139.2,313.3 L140.7,311.0 L142.2,308.5 L143.7,305.8 L145.2,302.9 L146.7,299.8 L148.2,296.7 L149.7,293.4 L151.2,290.1 L152.7,286.7 L154.2,283.4 L155.7,280.1 L157.2,276.8 L158.7,273.7 L160.2,270.7 L161.7,268.0 L163.2,265.4 L164.7,263.0 L166.2,261.0 L167.7,259.2 L169.2,257.7 L170.7,256.5 L172.2,255.6 L173.7,255.1 L175.2,254.9 L176.7,255.0 L178.2,255.4 L179.7,256.2 L181.2,257.2 L182.7,258.4 L184.2,259.8 L185.7,261.4 L187.2,263.2 L188.7,265.1 L190.2,267.0 L191.7,268.9 L193.2,270.8 L194.7,272.7 L196.2,274.5 L197.7,276.1 L199.2,277.6 L200.7,278.9 L202.2,280.0 L203.7,280.9 L205.2,281.7 L206.7,282.3 L208.2,282.7 L209.7,283.1 L211.2,283.3 L212.7,283.5 L214.2,283.7 L215.7,283.9 L217.2,284.2 L218.7,284.6 L220.2,285.1 L221.7,285.8 L223.2,286.7 L224.7,287.7 L226.2,289.0 L227.7,290.4 L229.2,292.0 L230.7,293.8 L232.2,295.6 L233.7,297.5 L235.2,299.4 L236.7,301.3 L238.2,303.1 L239.7,304.9 L241.2,306.6 L242.7,308.1 L244.2,309.5 L245.7,310.8 L247.2,311.9 L248.7,312.9 L250.2,313.7 L251.7,314.3 L253.2,314.8 L254.7,315.1 L256.2,315.3 L257.7,315.2 L259.2,315.0 L260.7,314.7 L262.2,314.2 L263.7,313.5 L265.2,312.8 L266.7,311.9 L268.2,311.0 L269.7,310.0 L271.2,309.0 L272.7,308.0 L274.2,307.0 L275.7,305.9 L277.2,304.9 L278.7,304.0 L280.2,303.0 L281.7,302.1 L283.2,301.3 L284.7,300.5 L286.2,299.8 L287.7,299.1 L289.2,298.5 L290.7,298.0 L292.2,297.5 L293.7,297.1 L295.2,296.8 L296.7,296.5 L298.2,296.3 L299.7,296.2 L301.2,296.1 L302.7,296.1 L304.2,296.2 L305.7,296.3 L307.2,296.5 L308.7,296.8 L310.2,297.2 L311.7,297.6 L313.2,298.0 L314.7,298.5 L316.2,299.1 L317.7,299.7 L319.2,300.4 L320.7,301.1 L322.2,301.9 L323.7,302.7 L325.2,303.6 L326.7,304.5 L328.2,305.4 L329.7,306.3 L331.2,307.3 L332.7,308.3 L334.2,309.3 L335.7,310.3 L337.2,311.4 L338.7,312.4 L340.2,313.5 L341.7,314.5 L343.2,315.6 L344.7,316.6 L346.2,317.6 L347.7,318.7 L349.2,319.7 L350.7,320.6 L352.2,321.6 L353.7,322.5 L355.2,323.5 L356.7,324.3 L358.2,325.2 L359.7,326.0 L361.2,326.8 L362.7,327.6 L364.2,328.3 L365.7,329.0 L367.2,329.6 L368.7,330.2 L370.2,330.8 L371.7,331.3 L373.2,331.8 L374.7,332.2 L376.2,332.6 L377.7,333.0 L379.2,333.3 L380.7,333.6 L382.2,333.9 L383.7,334.1 L385.2,334.3 L386.7,334.4 L388.2,334.6 L389.7,334.7 L391.2,334.8 L392.7,334.8 L394.2,334.9 L395.7,334.9 L397.2,334.9 L398.7,334.9 L400.2,334.9 L401.7,334.9 L403.2,334.9 L404.7,334.9 L406.2,334.9 L407.7,334.9 L409.2,335.0 L410.7,335.0 L412.2,335.0 L413.7,335.1 L415.2,335.2 L416.7,335.3 L418.2,335.4 L419.7,335.5 L421.2,335.7 L422.7,335.9 L424.2,336.1 L425.7,336.4 L427.2,336.7 L428.7,337.0 L430.2,337.4 L431.7,337.8 L433.2,338.2 L434.7,338.6 L436.2,339.1 L437.7,339.6 L439.2,340.2 L440.7,340.7 L442.2,341.3 L443.7,342.0 L445.2,342.6 L446.7,343.3 L448.2,344.0 L449.7,344.7 L451.2,345.5 L452.7,346.3 L454.2,347.1 L455.7,347.9 L457.2,348.8 L458.7,349.6 L460.2,350.5 L461.7,351.4 L463.2,352.3 L464.7,353.2 L466.2,354.1 L467.7,355.1 L469.2,356.0 L470.7,356.9 L472.2,357.9 L473.7,358.8 L475.2,359.8 L476.7,360.7 L478.2,361.6 L479.7,362.6 L481.2,363.5 L482.7,364.4 L484.2,365.3 L485.7,366.2 L487.2,367.0 L488.7,367.9 L490.2,368.8 L491.7,369.6 L493.2,370.4 L494.7,371.2 L496.2,372.0 L497.7,372.7 L499.2,373.5 L500.7,374.2 L502.2,374.9 L503.7,375.6 L505.2,376.2 L506.7,376.9 L508.2,377.5 L509.7,378.1 L511.2,378.6 L512.7,379.2 L514.2,379.7 L515.7,380.2 L517.2,380.7 L518.7,381.2 L520.2,381.6 L521.7,382.1 L523.2,382.5 L524.7,382.9 L526.2,383.2 L527.7,383.6 L529.2,383.9 L530.7,384.2 L532.2,384.5 L533.7,384.8 L535.2,385.1 L536.7,385.3 L538.2,385.6 L539.7,385.8 L541.2,386.0" fill="none" stroke="#000" stroke-width="2.35" stroke-dasharray="9.5 10.5" stroke-dashoffset="4.4"/>
<path d="M38.7,388.0 L40.2,387.8 L41.7,387.7 L43.2,387.5 L44.7,387.2 L46.2,386.9 L47.7,386.6 L49.2,386.2 L50.7,385.7 L52.2,385.2 L53.7,384.6 L55.2,384.0 L56.7,383.2 L58.2,382.4 L59.7,381.5 L61.2,380.4 L62.7,379.3 L64.2,378.0 L65.7,376.7 L67.2,375.2 L68.7,373.6 L70.2,371.9 L71.7,370.1 L73.2,368.2 L74.7,366.2 L76.2,364.1 L77.7,361.9 L79.2,359.7 L80.7,357.4 L82.2,355.1 L83.7,352.7 L85.2,350.4 L86.7,348.1 L88.2,345.9 L89.7,343.8 L91.2,341.7 L92.7,339.8 L94.2,338.0 L95.7,336.4 L97.2,335.0 L98.7,333.8 L100.2,332.8 L101.7,332.0 L103.2,331.5 L104.7,331.2 L106.2,331.2 L107.7,331.5 L109.2,332.0 L110.7,332.7 L112.2,333.7 L113.7,334.9 L115.2,336.3 L116.7,337.9 L118.2,339.7 L119.7,341.6 L121.2,343.6 L122.7,345.8 L124.2,348.0 L125.7,350.3 L127.2,352.6 L128.7,354.9 L130.2,357.2 L131.7,359.5 L133.2,361.8 L134.7,363.9 L136.2,366.0 L137.7,368.0 L139.2,370.0 L140.7,371.8 L142.2,373.5 L143.7,375.1 L145.2,376.6 L146.7,377.9 L148.2,379.2 L149.7,380.3 L151.2,381.4 L152.7,382.3 L154.2,383.2 L155.7,383.9 L157.2,384.6 L158.7,385.2 L160.2,385.7 L161.7,386.2 L163.2,386.6 L164.7,386.9 L166.2,387.2 L167.7,387.4 L169.2,387.7 L170.7,387.8 L172.2,388.0 L173.7,388.1 L175.2,388.2 L176.7,388.3 L178.2,388.4 L179.7,388.4 L181.2,388.5 L182.7,388.5 L184.2,388.6 L185.7,388.6 L185.7,388.7 L38.7,388.7 Z" fill="#12BC82"/>
<path d="M38.7,388.0 L40.2,387.8 L41.7,387.7 L43.2,387.5 L44.7,387.2 L46.2,386.9 L47.7,386.6 L49.2,386.2 L50.7,385.7 L52.2,385.2 L53.7,384.6 L55.2,384.0 L56.7,383.2 L58.2,382.4 L59.7,381.5 L61.2,380.4 L62.7,379.3 L64.2,378.0 L65.7,376.7 L67.2,375.2 L68.7,373.6 L70.2,371.9 L71.7,370.1 L73.2,368.2 L74.7,366.2 L76.2,364.1 L77.7,361.9 L79.2,359.7 L80.7,357.4 L82.2,355.1 L83.7,352.7 L85.2,350.4 L86.7,348.1 L88.2,345.9 L89.7,343.8 L91.2,341.7 L92.7,339.8 L94.2,338.0 L95.7,336.4 L97.2,335.0 L98.7,333.8 L100.2,332.8 L101.7,332.0 L103.2,331.5 L104.7,331.2 L106.2,331.2 L107.7,331.5 L109.2,332.0 L110.7,332.7 L112.2,333.7 L113.7,334.9 L115.2,336.3 L116.7,337.9 L118.2,339.7 L119.7,341.6 L121.2,343.6 L122.7,345.8 L124.2,348.0 L125.7,350.3 L127.2,352.6 L128.7,354.9 L130.2,357.2 L131.7,359.5 L133.2,361.8 L134.7,363.9 L136.2,366.0 L137.7,368.0 L139.2,370.0 L140.7,371.8 L142.2,373.5 L143.7,375.1 L145.2,376.6 L146.7,377.9 L148.2,379.2 L149.7,380.3 L151.2,381.4 L152.7,382.3 L154.2,383.2 L155.7,383.9 L157.2,384.6 L158.7,385.2 L160.2,385.7 L161.7,386.2 L163.2,386.6 L164.7,386.9 L166.2,387.2 L167.7,387.4 L169.2,387.7 L170.7,387.8 L172.2,388.0 L173.7,388.1 L175.2,388.2 L176.7,388.3 L178.2,388.4 L179.7,388.4 L181.2,388.5 L182.7,388.5 L184.2,388.6 L185.7,388.6" fill="none" stroke="#0AAA6E" stroke-width="1.2"/>
<path d="M109.2,388.6 L110.7,388.6 L112.2,388.6 L113.7,388.6 L115.2,388.5 L116.7,388.5 L118.2,388.5 L119.7,388.5 L121.2,388.5 L122.7,388.4 L124.2,388.4 L125.7,388.4 L127.2,388.3 L128.7,388.3 L130.2,388.3 L131.7,388.2 L133.2,388.2 L134.7,388.1 L136.2,388.1 L137.7,388.0 L139.2,387.9 L140.7,387.9 L142.2,387.8 L143.7,387.7 L145.2,387.6 L146.7,387.5 L148.2,387.4 L149.7,387.3 L151.2,387.2 L152.7,387.0 L154.2,386.9 L155.7,386.7 L157.2,386.6 L158.7,386.4 L160.2,386.2 L161.7,386.0 L163.2,385.8 L164.7,385.6 L166.2,385.4 L167.7,385.1 L169.2,384.8 L170.7,384.5 L172.2,384.2 L173.7,383.9 L175.2,383.6 L176.7,383.2 L178.2,382.8 L179.7,382.4 L181.2,382.0 L182.7,381.5 L184.2,381.0 L185.7,380.5 L187.2,380.0 L188.7,379.4 L190.2,378.8 L191.7,378.2 L193.2,377.6 L194.7,376.9 L196.2,376.2 L197.7,375.5 L199.2,374.7 L200.7,373.9 L202.2,373.1 L203.7,372.2 L205.2,371.3 L206.7,370.4 L208.2,369.4 L209.7,368.4 L211.2,367.4 L212.7,366.3 L214.2,365.2 L215.7,364.1 L217.2,362.9 L218.7,361.7 L220.2,360.5 L221.7,359.2 L223.2,357.9 L224.7,356.6 L226.2,355.2 L227.7,353.8 L229.2,352.4 L230.7,351.0 L232.2,349.5 L233.7,348.0 L235.2,346.5 L236.7,345.0 L238.2,343.4 L239.7,341.9 L241.2,340.3 L242.7,338.7 L244.2,337.1 L245.7,335.5 L247.2,333.9 L248.7,332.3 L250.2,330.7 L251.7,329.1 L253.2,327.5 L254.7,326.0 L256.2,324.4 L257.7,322.8 L259.2,321.3 L260.7,319.8 L262.2,318.3 L263.7,316.8 L265.2,315.4 L266.7,314.0 L268.2,312.6 L269.7,311.3 L271.2,310.0 L272.7,308.8 L274.2,307.6 L275.7,306.5 L277.2,305.4 L278.7,304.4 L280.2,303.4 L281.7,302.5 L283.2,301.7 L284.7,300.9 L286.2,300.2 L287.7,299.5 L289.2,299.0 L290.7,298.5 L292.2,298.0 L293.7,297.7 L295.2,297.4 L296.7,297.2 L298.2,297.1 L299.7,297.0 L301.2,297.0 L302.7,297.1 L304.2,297.3 L305.7,297.5 L307.2,297.9 L308.7,298.3 L310.2,298.7 L311.7,299.3 L313.2,299.9 L314.7,300.6 L316.2,301.3 L317.7,302.2 L319.2,303.0 L320.7,304.0 L322.2,305.0 L323.7,306.0 L325.2,307.2 L326.7,308.3 L328.2,309.5 L329.7,310.8 L331.2,312.1 L332.7,313.5 L334.2,314.8 L335.7,316.3 L337.2,317.7 L338.7,319.2 L340.2,320.7 L341.7,322.2 L343.2,323.8 L344.7,325.3 L346.2,326.9 L347.7,328.5 L349.2,330.1 L350.7,331.7 L352.2,333.3 L353.7,334.9 L355.2,336.5 L356.7,338.1 L358.2,339.7 L359.7,341.3 L361.2,342.8 L362.7,344.4 L364.2,345.9 L365.7,347.4 L367.2,348.9 L368.7,350.4 L370.2,351.8 L371.7,353.3 L373.2,354.7 L374.7,356.0 L376.2,357.4 L377.7,358.7 L379.2,359.9 L380.7,361.2 L382.2,362.4 L383.7,363.6 L385.2,364.7 L386.7,365.9 L388.2,366.9 L389.7,368.0 L391.2,369.0 L392.7,370.0 L394.2,370.9 L395.7,371.8 L397.2,372.7 L398.7,373.6 L400.2,374.4 L401.7,375.2 L403.2,375.9 L404.7,376.6 L406.2,377.3 L407.7,378.0 L409.2,378.6 L410.7,379.2 L412.2,379.8 L413.7,380.3 L415.2,380.8 L416.7,381.3 L418.2,381.8 L419.7,382.2 L421.2,382.6 L422.7,383.0 L424.2,383.4 L425.7,383.8 L427.2,384.1 L428.7,384.4 L430.2,384.7 L431.7,385.0 L433.2,385.3 L434.7,385.5 L436.2,385.7 L437.7,385.9 L439.2,386.2 L440.7,386.3 L442.2,386.5 L443.7,386.7 L445.2,386.8 L446.7,387.0 L448.2,387.1 L449.7,387.2 L451.2,387.4 L452.7,387.5 L454.2,387.6 L455.7,387.7 L457.2,387.7 L458.7,387.8 L460.2,387.9 L461.7,388.0 L463.2,388.0 L464.7,388.1 L466.2,388.1 L467.7,388.2 L469.2,388.2 L470.7,388.3 L472.2,388.3 L473.7,388.4 L475.2,388.4 L476.7,388.4 L478.2,388.4 L479.7,388.5 L481.2,388.5 L482.7,388.5 L484.2,388.5 L485.7,388.5 L487.2,388.6 L488.7,388.6 L490.2,388.6 L490.2,388.7 L109.2,388.7 Z" fill="#D496EC"/>
<path d="M271.2,388.6 L272.7,388.6 L274.2,388.6 L275.7,388.5 L277.2,388.5 L278.7,388.5 L280.2,388.5 L281.7,388.5 L283.2,388.4 L284.7,388.4 L286.2,388.4 L287.7,388.3 L289.2,388.3 L290.7,388.2 L292.2,388.2 L293.7,388.1 L295.2,388.1 L296.7,388.0 L298.2,387.9 L299.7,387.9 L301.2,387.8 L302.7,387.7 L304.2,387.6 L305.7,387.5 L307.2,387.4 L308.7,387.2 L310.2,387.1 L311.7,387.0 L313.2,386.8 L314.7,386.7 L316.2,386.5 L317.7,386.3 L319.2,386.1 L320.7,385.9 L322.2,385.6 L323.7,385.4 L325.2,385.1 L326.7,384.8 L328.2,384.5 L329.7,384.2 L331.2,383.9 L332.7,383.5 L334.2,383.2 L335.7,382.8 L337.2,382.4 L338.7,381.9 L340.2,381.5 L341.7,381.0 L343.2,380.5 L344.7,380.0 L346.2,379.4 L347.7,378.9 L349.2,378.3 L350.7,377.7 L352.2,377.0 L353.7,376.3 L355.2,375.7 L356.7,375.0 L358.2,374.2 L359.7,373.5 L361.2,372.7 L362.7,371.9 L364.2,371.1 L365.7,370.2 L367.2,369.4 L368.7,368.5 L370.2,367.6 L371.7,366.7 L373.2,365.8 L374.7,364.9 L376.2,364.0 L377.7,363.0 L379.2,362.1 L380.7,361.2 L382.2,362.4 L383.7,363.6 L385.2,364.7 L386.7,365.9 L388.2,366.9 L389.7,368.0 L391.2,369.0 L392.7,370.0 L394.2,370.9 L395.7,371.8 L397.2,372.7 L398.7,373.6 L400.2,374.4 L401.7,375.2 L403.2,375.9 L404.7,376.6 L406.2,377.3 L407.7,378.0 L409.2,378.6 L410.7,379.2 L412.2,379.8 L413.7,380.3 L415.2,380.8 L416.7,381.3 L418.2,381.8 L419.7,382.2 L421.2,382.6 L422.7,383.0 L424.2,383.4 L425.7,383.8 L427.2,384.1 L428.7,384.4 L430.2,384.7 L431.7,385.0 L433.2,385.3 L434.7,385.5 L436.2,385.7 L437.7,385.9 L439.2,386.2 L440.7,386.3 L442.2,386.5 L443.7,386.7 L445.2,386.8 L446.7,387.0 L448.2,387.1 L449.7,387.2 L451.2,387.4 L452.7,387.5 L454.2,387.6 L455.7,387.7 L457.2,387.7 L458.7,387.8 L460.2,387.9 L461.7,388.0 L463.2,388.0 L464.7,388.1 L466.2,388.1 L467.7,388.2 L469.2,388.2 L470.7,388.3 L472.2,388.3 L473.7,388.4 L475.2,388.4 L476.7,388.4 L478.2,388.4 L479.7,388.5 L481.2,388.5 L482.7,388.5 L484.2,388.5 L485.7,388.5 L487.2,388.6 L488.7,388.6 L490.2,388.6 L490.2,388.7 L271.2,388.7 Z" fill="#D77DC3"/>
<path d="M271.2,388.6 L272.7,388.6 L274.2,388.6 L275.7,388.5 L277.2,388.5 L278.7,388.5 L280.2,388.5 L281.7,388.5 L283.2,388.4 L284.7,388.4 L286.2,388.4 L287.7,388.3 L289.2,388.3 L290.7,388.2 L292.2,388.2 L293.7,388.1 L295.2,388.1 L296.7,388.0 L298.2,387.9 L299.7,387.9 L301.2,387.8 L302.7,387.7 L304.2,387.6 L305.7,387.5 L307.2,387.4 L308.7,387.2 L310.2,387.1 L311.7,387.0 L313.2,386.8 L314.7,386.7 L316.2,386.5 L317.7,386.3 L319.2,386.1 L320.7,385.9 L322.2,385.6 L323.7,385.4 L325.2,385.1 L326.7,384.8 L328.2,384.5 L329.7,384.2 L331.2,383.9 L332.7,383.5 L334.2,383.2 L335.7,382.8 L337.2,382.4 L338.7,381.9 L340.2,381.5 L341.7,381.0 L343.2,380.5 L344.7,380.0 L346.2,379.4 L347.7,378.9 L349.2,378.3 L350.7,377.7 L352.2,377.0 L353.7,376.3 L355.2,375.7 L356.7,375.0 L358.2,374.2 L359.7,373.5 L361.2,372.7 L362.7,371.9 L364.2,371.1 L365.7,370.2 L367.2,369.4 L368.7,368.5 L370.2,367.6 L371.7,366.7 L373.2,365.8 L374.7,364.9 L376.2,364.0 L377.7,363.0 L379.2,362.1 L380.7,361.2 L382.2,362.4 L383.7,363.6 L385.2,364.7 L386.7,365.9 L388.2,366.9 L389.7,368.0 L391.2,369.0 L392.7,370.0 L394.2,370.9 L395.7,371.8 L397.2,372.7 L398.7,373.6 L400.2,374.4 L401.7,375.2 L403.2,375.9 L404.7,376.6 L406.2,377.3 L407.7,378.0 L409.2,378.6 L410.7,379.2 L412.2,379.8 L413.7,380.3 L415.2,380.8 L416.7,381.3 L418.2,381.8 L419.7,382.2 L421.2,382.6 L422.7,383.0 L424.2,383.4 L425.7,383.8 L427.2,384.1 L428.7,384.4 L430.2,384.7 L431.7,385.0 L433.2,385.3 L434.7,385.5 L436.2,385.7 L437.7,385.9 L439.2,386.2 L440.7,386.3 L442.2,386.5 L443.7,386.7 L445.2,386.8 L446.7,387.0 L448.2,387.1 L449.7,387.2 L451.2,387.4 L452.7,387.5 L454.2,387.6 L455.7,387.7 L457.2,387.7 L458.7,387.8 L460.2,387.9 L461.7,388.0 L463.2,388.0 L464.7,388.1 L466.2,388.1 L467.7,388.2 L469.2,388.2 L470.7,388.3 L472.2,388.3 L473.7,388.4 L475.2,388.4 L476.7,388.4 L478.2,388.4 L479.7,388.5 L481.2,388.5 L482.7,388.5 L484.2,388.5 L485.7,388.5 L487.2,388.6 L488.7,388.6 L490.2,388.6" fill="none" stroke="#FA7814" stroke-width="1.2" stroke-opacity="0.25"/>
<path d="M109.2,388.6 L110.7,388.6 L112.2,388.6 L113.7,388.6 L115.2,388.5 L116.7,388.5 L118.2,388.5 L119.7,388.5 L121.2,388.5 L122.7,388.4 L124.2,388.4 L125.7,388.4 L127.2,388.3 L128.7,388.3 L130.2,388.3 L131.7,388.2 L133.2,388.2 L134.7,388.1 L136.2,388.1 L137.7,388.0 L139.2,387.9 L140.7,387.9 L142.2,387.8 L143.7,387.7 L145.2,387.6 L146.7,387.5 L148.2,387.4 L149.7,387.3 L151.2,387.2 L152.7,387.0 L154.2,386.9 L155.7,386.7 L157.2,386.6 L158.7,386.4 L160.2,386.2 L161.7,386.0 L163.2,385.8 L164.7,385.6 L166.2,385.4 L167.7,385.1 L169.2,384.8 L170.7,384.5 L172.2,384.2 L173.7,383.9 L175.2,383.6 L176.7,383.2 L178.2,382.8 L179.7,382.4 L181.2,382.0 L182.7,381.5 L184.2,381.0 L185.7,380.5 L187.2,380.0 L188.7,379.4 L190.2,378.8 L191.7,378.2 L193.2,377.6 L194.7,376.9 L196.2,376.2 L197.7,375.5 L199.2,374.7 L200.7,373.9 L202.2,373.1 L203.7,372.2 L205.2,371.3 L206.7,370.4 L208.2,369.4 L209.7,368.4 L211.2,367.4 L212.7,366.3 L214.2,365.2 L215.7,364.1 L217.2,362.9 L218.7,361.7 L220.2,360.5 L221.7,359.2 L223.2,357.9 L224.7,356.6 L226.2,355.2 L227.7,353.8 L229.2,352.4 L230.7,351.0 L232.2,349.5 L233.7,348.0 L235.2,346.5 L236.7,345.0 L238.2,343.4 L239.7,341.9 L241.2,340.3 L242.7,338.7 L244.2,337.1 L245.7,335.5 L247.2,333.9 L248.7,332.3 L250.2,330.7 L251.7,329.1 L253.2,327.5 L254.7,326.0 L256.2,324.4 L257.7,322.8 L259.2,321.3 L260.7,319.8 L262.2,318.3 L263.7,316.8 L265.2,315.4 L266.7,314.0 L268.2,312.6 L269.7,311.3 L271.2,310.0 L272.7,308.8 L274.2,307.6 L275.7,306.5 L277.2,305.4 L278.7,304.4 L280.2,303.4 L281.7,302.5 L283.2,301.7 L284.7,300.9 L286.2,300.2 L287.7,299.5 L289.2,299.0 L290.7,298.5 L292.2,298.0 L293.7,297.7 L295.2,297.4 L296.7,297.2 L298.2,297.1 L299.7,297.0 L301.2,297.0 L302.7,297.1 L304.2,297.3 L305.7,297.5 L307.2,297.9 L308.7,298.3 L310.2,298.7 L311.7,299.3 L313.2,299.9 L314.7,300.6 L316.2,301.3 L317.7,302.2 L319.2,303.0 L320.7,304.0 L322.2,305.0 L323.7,306.0 L325.2,307.2 L326.7,308.3 L328.2,309.5 L329.7,310.8 L331.2,312.1 L332.7,313.5 L334.2,314.8 L335.7,316.3 L337.2,317.7 L338.7,319.2 L340.2,320.7 L341.7,322.2 L343.2,323.8 L344.7,325.3 L346.2,326.9 L347.7,328.5 L349.2,330.1 L350.7,331.7 L352.2,333.3 L353.7,334.9 L355.2,336.5 L356.7,338.1 L358.2,339.7 L359.7,341.3 L361.2,342.8 L362.7,344.4 L364.2,345.9 L365.7,347.4 L367.2,348.9 L368.7,350.4 L370.2,351.8 L371.7,353.3 L373.2,354.7 L374.7,356.0 L376.2,357.4 L377.7,358.7 L379.2,359.9 L380.7,361.2 L382.2,362.4 L383.7,363.6 L385.2,364.7 L386.7,365.9 L388.2,366.9 L389.7,368.0 L391.2,369.0 L392.7,370.0 L394.2,370.9 L395.7,371.8 L397.2,372.7 L398.7,373.6 L400.2,374.4 L401.7,375.2 L403.2,375.9 L404.7,376.6 L406.2,377.3 L407.7,378.0 L409.2,378.6 L410.7,379.2 L412.2,379.8 L413.7,380.3 L415.2,380.8 L416.7,381.3 L418.2,381.8 L419.7,382.2 L421.2,382.6 L422.7,383.0 L424.2,383.4 L425.7,383.8 L427.2,384.1 L428.7,384.4 L430.2,384.7 L431.7,385.0 L433.2,385.3 L434.7,385.5 L436.2,385.7 L437.7,385.9 L439.2,386.2 L440.7,386.3 L442.2,386.5 L443.7,386.7 L445.2,386.8 L446.7,387.0 L448.2,387.1 L449.7,387.2 L451.2,387.4 L452.7,387.5 L454.2,387.6 L455.7,387.7 L457.2,387.7 L458.7,387.8 L460.2,387.9 L461.7,388.0 L463.2,388.0 L464.7,388.1 L466.2,388.1 L467.7,388.2 L469.2,388.2 L470.7,388.3 L472.2,388.3 L473.7,388.4 L475.2,388.4 L476.7,388.4 L478.2,388.4 L479.7,388.5 L481.2,388.5 L482.7,388.5 L484.2,388.5 L485.7,388.5 L487.2,388.6 L488.7,388.6 L490.2,388.6" fill="none" stroke="#B982F0" stroke-width="1.2"/>
<path d="M73.2,388.6 L74.7,388.6 L76.2,388.5 L77.7,388.5 L79.2,388.4 L80.7,388.4 L82.2,388.3 L83.7,388.2 L85.2,388.1 L86.7,388.0 L88.2,387.9 L89.7,387.7 L91.2,387.6 L92.7,387.3 L94.2,387.1 L95.7,386.8 L97.2,386.5 L98.7,386.1 L100.2,385.7 L101.7,385.2 L103.2,384.6 L104.7,384.0 L106.2,383.3 L107.7,382.5 L109.2,381.6 L110.7,380.5 L112.2,379.4 L113.7,378.2 L115.2,376.8 L116.7,375.3 L118.2,373.6 L119.7,371.8 L121.2,369.8 L122.7,367.7 L124.2,365.4 L125.7,362.9 L127.2,360.2 L128.7,357.4 L130.2,354.3 L131.7,351.1 L133.2,347.8 L134.7,344.3 L136.2,340.6 L137.7,336.8 L139.2,332.8 L140.7,328.8 L142.2,324.6 L143.7,320.4 L145.2,316.1 L146.7,311.8 L148.2,307.4 L149.7,303.1 L151.2,298.9 L152.7,294.7 L154.2,290.7 L155.7,286.8 L157.2,283.1 L158.7,279.5 L160.2,276.2 L161.7,273.2 L163.2,270.4 L164.7,268.0 L166.2,265.9 L167.7,264.1 L169.2,262.8 L170.7,261.7 L172.2,261.1 L173.7,260.9 L175.2,261.1 L176.7,261.6 L178.2,262.6 L179.7,263.9 L181.2,265.6 L182.7,267.7 L184.2,270.1 L185.7,272.8 L187.2,275.8 L188.7,279.1 L190.2,282.6 L191.7,286.3 L193.2,290.2 L194.7,294.2 L196.2,298.3 L197.7,302.6 L199.2,306.9 L200.7,311.2 L202.2,315.5 L203.7,319.8 L205.2,324.0 L206.7,328.2 L208.2,332.3 L209.7,336.2 L211.2,340.1 L212.7,343.8 L214.2,347.3 L215.7,350.7 L217.2,353.9 L218.7,357.0 L220.2,359.8 L221.7,362.5 L223.2,365.0 L224.7,367.4 L226.2,369.5 L227.7,371.5 L229.2,373.4 L230.7,375.1 L232.2,376.6 L233.7,378.0 L235.2,379.3 L236.7,380.4 L238.2,381.4 L239.7,382.3 L241.2,383.2 L242.7,383.9 L244.2,384.5 L245.7,385.1 L247.2,385.6 L248.7,386.1 L250.2,386.4 L251.7,386.8 L253.2,387.1 L254.7,387.3 L256.2,387.5 L257.7,387.7 L259.2,387.9 L260.7,388.0 L262.2,388.1 L263.7,388.2 L265.2,388.3 L266.7,388.4 L268.2,388.4 L269.7,388.5 L271.2,388.5 L272.7,388.6 L274.2,388.6 L275.7,388.6 L275.7,388.7 L73.2,388.7 Z" fill="#0C8AE6"/>
<path d="M73.2,388.6 L74.7,388.6 L76.2,388.5 L77.7,388.5 L79.2,388.4 L80.7,388.4 L82.2,388.3 L83.7,388.2 L85.2,388.1 L86.7,388.0 L88.2,387.9 L89.7,387.7 L91.2,387.6 L92.7,387.3 L94.2,387.1 L95.7,386.8 L97.2,386.5 L98.7,386.1 L100.2,385.7 L101.7,385.2 L103.2,384.6 L104.7,384.0 L106.2,383.3 L107.7,382.5 L109.2,381.6 L110.7,380.5 L112.2,379.4 L113.7,378.2 L115.2,376.8 L116.7,375.3 L118.2,373.6 L119.7,371.8 L121.2,369.8 L122.7,367.7 L124.2,365.4 L125.7,362.9 L127.2,360.2 L128.7,357.4 L130.2,357.2 L131.7,359.5 L133.2,361.8 L134.7,363.9 L136.2,366.0 L137.7,368.0 L139.2,370.0 L140.7,371.8 L142.2,373.5 L143.7,375.1 L145.2,376.6 L146.7,377.9 L148.2,379.2 L149.7,380.3 L151.2,381.4 L152.7,382.3 L154.2,383.2 L155.7,383.9 L157.2,384.6 L158.7,385.2 L160.2,385.7 L161.7,386.2 L163.2,386.6 L164.7,386.9 L166.2,387.2 L167.7,387.4 L169.2,387.7 L170.7,387.8 L172.2,388.0 L173.7,388.1 L175.2,388.2 L176.7,388.3 L178.2,388.4 L179.7,388.4 L181.2,388.5 L182.7,388.5 L184.2,388.6 L185.7,388.6 L185.7,388.7 L73.2,388.7 Z" fill="#087DCD"/>
<path d="M73.2,388.6 L74.7,388.6 L76.2,388.5 L77.7,388.5 L79.2,388.4 L80.7,388.4 L82.2,388.3 L83.7,388.2 L85.2,388.1 L86.7,388.0 L88.2,387.9 L89.7,387.7 L91.2,387.6 L92.7,387.3 L94.2,387.1 L95.7,386.8 L97.2,386.5 L98.7,386.1 L100.2,385.7 L101.7,385.2 L103.2,384.6 L104.7,384.0 L106.2,383.3 L107.7,382.5 L109.2,381.6 L110.7,380.5 L112.2,379.4 L113.7,378.2 L115.2,376.8 L116.7,375.3 L118.2,373.6 L119.7,371.8 L121.2,369.8 L122.7,367.7 L124.2,365.4 L125.7,362.9 L127.2,360.2 L128.7,357.4 L130.2,357.2 L131.7,359.5 L133.2,361.8 L134.7,363.9 L136.2,366.0 L137.7,368.0 L139.2,370.0 L140.7,371.8 L142.2,373.5 L143.7,375.1 L145.2,376.6 L146.7,377.9 L148.2,379.2 L149.7,380.3 L151.2,381.4 L152.7,382.3 L154.2,383.2 L155.7,383.9 L157.2,384.6 L158.7,385.2 L160.2,385.7 L161.7,386.2 L163.2,386.6 L164.7,386.9 L166.2,387.2 L167.7,387.4 L169.2,387.7 L170.7,387.8 L172.2,388.0 L173.7,388.1 L175.2,388.2 L176.7,388.3 L178.2,388.4 L179.7,388.4 L181.2,388.5 L182.7,388.5 L184.2,388.6 L185.7,388.6" fill="none" stroke="#0AAA6E" stroke-width="1.2" stroke-opacity="0.25"/>
<path d="M73.2,388.6 L74.7,388.6 L76.2,388.5 L77.7,388.5 L79.2,388.4 L80.7,388.4 L82.2,388.3 L83.7,388.2 L85.2,388.1 L86.7,388.0 L88.2,387.9 L89.7,387.7 L91.2,387.6 L92.7,387.3 L94.2,387.1 L95.7,386.8 L97.2,386.5 L98.7,386.1 L100.2,385.7 L101.7,385.2 L103.2,384.6 L104.7,384.0 L106.2,383.3 L107.7,382.5 L109.2,381.6 L110.7,380.5 L112.2,379.4 L113.7,378.2 L115.2,376.8 L116.7,375.3 L118.2,373.6 L119.7,371.8 L121.2,369.8 L122.7,367.7 L124.2,365.4 L125.7,362.9 L127.2,360.2 L128.7,357.4 L130.2,354.3 L131.7,351.1 L133.2,347.8 L134.7,344.3 L136.2,340.6 L137.7,336.8 L139.2,332.8 L140.7,328.8 L142.2,324.6 L143.7,320.4 L145.2,316.1 L146.7,311.8 L148.2,307.4 L149.7,303.1 L151.2,298.9 L152.7,294.7 L154.2,290.7 L155.7,286.8 L157.2,283.1 L158.7,279.5 L160.2,276.2 L161.7,273.2 L163.2,270.4 L164.7,268.0 L166.2,265.9 L167.7,264.1 L169.2,262.8 L170.7,261.7 L172.2,261.1 L173.7,260.9 L175.2,261.1 L176.7,261.6 L178.2,262.6 L179.7,263.9 L181.2,265.6 L182.7,267.7 L184.2,270.1 L185.7,272.8 L187.2,275.8 L188.7,279.1 L190.2,282.6 L191.7,286.3 L193.2,290.2 L194.7,294.2 L196.2,298.3 L197.7,302.6 L199.2,306.9 L200.7,311.2 L202.2,315.5 L203.7,319.8 L205.2,324.0 L206.7,328.2 L208.2,332.3 L209.7,336.2 L211.2,340.1 L212.7,343.8 L214.2,347.3 L215.7,350.7 L217.2,353.9 L218.7,357.0 L220.2,359.8 L221.7,362.5 L223.2,365.0 L224.7,367.4 L226.2,369.5 L227.7,371.5 L229.2,373.4 L230.7,375.1 L232.2,376.6 L233.7,378.0 L235.2,379.3 L236.7,380.4 L238.2,381.4 L239.7,382.3 L241.2,383.2 L242.7,383.9 L244.2,384.5 L245.7,385.1 L247.2,385.6 L248.7,386.1 L250.2,386.4 L251.7,386.8 L253.2,387.1 L254.7,387.3 L256.2,387.5 L257.7,387.7 L259.2,387.9 L260.7,388.0 L262.2,388.1 L263.7,388.2 L265.2,388.3 L266.7,388.4 L268.2,388.4 L269.7,388.5 L271.2,388.5 L272.7,388.6 L274.2,388.6 L275.7,388.6" fill="none" stroke="#146EEB" stroke-width="1.2"/>
<path d="M166.2,388.6 L167.7,388.6 L169.2,388.5 L170.7,388.5 L172.2,388.4 L173.7,388.3 L175.2,388.2 L176.7,388.0 L178.2,387.8 L179.7,387.5 L181.2,387.2 L182.7,386.7 L184.2,386.2 L185.7,385.6 L187.2,384.9 L188.7,384.0 L190.2,383.0 L191.7,381.9 L193.2,380.5 L194.7,379.0 L196.2,377.3 L197.7,375.5 L199.2,373.4 L200.7,371.2 L202.2,368.8 L203.7,366.4 L205.2,363.8 L206.7,361.1 L208.2,358.5 L209.7,355.8 L211.2,353.3 L212.7,350.8 L214.2,348.6 L215.7,346.5 L217.2,344.8 L218.7,343.3 L220.2,342.2 L221.7,341.5 L223.2,341.2 L224.7,341.3 L226.2,341.8 L227.7,342.7 L229.2,344.0 L230.7,345.5 L232.2,347.4 L233.7,349.6 L235.2,351.9 L236.7,354.4 L238.2,357.1 L239.7,359.7 L241.2,362.4 L242.7,365.0 L244.2,367.5 L245.7,370.0 L247.2,372.3 L248.7,374.4 L250.2,376.4 L251.7,378.1 L253.2,379.8 L254.7,381.2 L256.2,382.4 L257.7,383.5 L259.2,384.5 L260.7,385.2 L262.2,385.9 L263.7,386.5 L265.2,386.9 L266.7,387.3 L268.2,387.6 L269.7,387.9 L271.2,388.1 L272.7,388.2 L274.2,388.3 L275.7,388.4 L277.2,388.5 L278.7,388.6 L280.2,388.6 L280.2,388.7 L166.2,388.7 Z" fill="#EDAD2D"/>
<path d="M166.2,388.6 L167.7,388.6 L169.2,388.5 L170.7,388.5 L172.2,388.4 L173.7,388.3 L175.2,388.2 L176.7,388.0 L178.2,387.8 L179.7,387.5 L181.2,387.2 L182.7,386.7 L184.2,386.2 L185.7,385.6 L187.2,384.9 L188.7,384.0 L190.2,383.0 L191.7,381.9 L193.2,380.5 L194.7,379.0 L196.2,377.3 L197.7,375.5 L199.2,374.7 L200.7,373.9 L202.2,373.1 L203.7,372.2 L205.2,371.3 L206.7,370.4 L208.2,369.4 L209.7,368.4 L211.2,367.4 L212.7,366.3 L214.2,365.2 L215.7,364.1 L217.2,362.9 L218.7,361.7 L220.2,360.5 L221.7,359.2 L223.2,357.9 L224.7,356.6 L226.2,355.2 L227.7,353.8 L229.2,352.4 L230.7,351.0 L232.2,349.5 L233.7,349.6 L235.2,351.9 L236.7,354.4 L238.2,357.1 L239.7,359.7 L241.2,362.4 L242.7,365.0 L244.2,367.5 L245.7,370.0 L247.2,372.3 L248.7,374.4 L250.2,376.4 L251.7,378.1 L253.2,379.8 L254.7,381.2 L256.2,382.4 L257.7,383.5 L259.2,384.5 L260.7,385.2 L262.2,385.9 L263.7,386.5 L265.2,386.9 L266.7,387.3 L268.2,387.6 L269.7,387.9 L271.2,388.1 L272.7,388.2 L274.2,388.3 L275.7,388.4 L277.2,388.5 L278.7,388.6 L280.2,388.6 L280.2,388.7 L166.2,388.7 Z" fill="#E2A02A"/>
<path d="M166.2,388.6 L167.7,388.6 L169.2,388.5 L170.7,388.5 L172.2,388.4 L173.7,388.3 L175.2,388.2 L176.7,388.0 L178.2,387.8 L179.7,387.5 L181.2,387.2 L182.7,386.7 L184.2,386.2 L185.7,385.6 L187.2,384.9 L188.7,384.0 L190.2,383.0 L191.7,381.9 L193.2,380.5 L194.7,379.0 L196.2,377.3 L197.7,375.5 L199.2,374.7 L200.7,373.9 L202.2,373.1 L203.7,372.2 L205.2,371.3 L206.7,370.4 L208.2,369.4 L209.7,368.4 L211.2,367.4 L212.7,366.3 L214.2,365.2 L215.7,364.1 L217.2,362.9 L218.7,361.7 L220.2,360.5 L221.7,359.2 L223.2,357.9 L224.7,356.6 L226.2,355.2 L227.7,353.8 L229.2,352.4 L230.7,351.0 L232.2,349.5 L233.7,349.6 L235.2,351.9 L236.7,354.4 L238.2,357.1 L239.7,359.7 L241.2,362.4 L242.7,365.0 L244.2,367.5 L245.7,370.0 L247.2,372.3 L248.7,374.4 L250.2,376.4 L251.7,378.1 L253.2,379.8 L254.7,381.2 L256.2,382.4 L257.7,383.5 L259.2,384.5 L260.7,385.2 L262.2,385.9 L263.7,386.5 L265.2,386.9 L266.7,387.3 L268.2,387.6 L269.7,387.9 L271.2,388.1 L272.7,388.2 L274.2,388.3 L275.7,388.4 L277.2,388.5 L278.7,388.6 L280.2,388.6" fill="none" stroke="#B982F0" stroke-width="1.2" stroke-opacity="0.25"/>
<path d="M166.2,388.6 L167.7,388.6 L169.2,388.5 L170.7,388.5 L172.2,388.4 L173.7,388.3 L175.2,388.2 L176.7,388.0 L178.2,387.8 L179.7,387.5 L181.2,387.2 L182.7,386.7 L184.2,386.2 L185.7,385.6 L187.2,384.9 L188.7,384.0 L190.2,383.0 L191.7,381.9 L193.2,380.5 L194.7,379.0 L196.2,377.3 L197.7,375.5 L199.2,373.4 L200.7,371.2 L202.2,368.8 L203.7,366.4 L205.2,363.8 L206.7,361.1 L208.2,358.5 L209.7,355.8 L211.2,353.3 L212.7,350.8 L214.2,348.6 L215.7,350.7 L217.2,353.9 L218.7,357.0 L220.2,359.8 L221.7,362.5 L223.2,365.0 L224.7,367.4 L226.2,369.5 L227.7,371.5 L229.2,373.4 L230.7,375.1 L232.2,376.6 L233.7,378.0 L235.2,379.3 L236.7,380.4 L238.2,381.4 L239.7,382.3 L241.2,383.2 L242.7,383.9 L244.2,384.5 L245.7,385.1 L247.2,385.6 L248.7,386.1 L250.2,386.4 L251.7,386.8 L253.2,387.1 L254.7,387.3 L256.2,387.5 L257.7,387.7 L259.2,387.9 L260.7,388.0 L262.2,388.1 L263.7,388.2 L265.2,388.3 L266.7,388.4 L268.2,388.4 L269.7,388.5 L271.2,388.5 L272.7,388.6 L274.2,388.6 L275.7,388.6 L275.7,388.7 L166.2,388.7 Z" fill="#BE9823"/>
<path d="M166.2,388.6 L167.7,388.6 L169.2,388.5 L170.7,388.5 L172.2,388.4 L173.7,388.3 L175.2,388.2 L176.7,388.0 L178.2,387.8 L179.7,387.5 L181.2,387.2 L182.7,386.7 L184.2,386.2 L185.7,385.6 L187.2,384.9 L188.7,384.0 L190.2,383.0 L191.7,381.9 L193.2,380.5 L194.7,379.0 L196.2,377.3 L197.7,375.5 L199.2,373.4 L200.7,371.2 L202.2,368.8 L203.7,366.4 L205.2,363.8 L206.7,361.1 L208.2,358.5 L209.7,355.8 L211.2,353.3 L212.7,350.8 L214.2,348.6 L215.7,350.7 L217.2,353.9 L218.7,357.0 L220.2,359.8 L221.7,362.5 L223.2,365.0 L224.7,367.4 L226.2,369.5 L227.7,371.5 L229.2,373.4 L230.7,375.1 L232.2,376.6 L233.7,378.0 L235.2,379.3 L236.7,380.4 L238.2,381.4 L239.7,382.3 L241.2,383.2 L242.7,383.9 L244.2,384.5 L245.7,385.1 L247.2,385.6 L248.7,386.1 L250.2,386.4 L251.7,386.8 L253.2,387.1 L254.7,387.3 L256.2,387.5 L257.7,387.7 L259.2,387.9 L260.7,388.0 L262.2,388.1 L263.7,388.2 L265.2,388.3 L266.7,388.4 L268.2,388.4 L269.7,388.5 L271.2,388.5 L272.7,388.6 L274.2,388.6 L275.7,388.6" fill="none" stroke="#146EEB" stroke-width="1.2" stroke-opacity="0.25"/>
<path d="M166.2,388.6 L167.7,388.6 L169.2,388.5 L170.7,388.5 L172.2,388.4 L173.7,388.3 L175.2,388.2 L176.7,388.0 L178.2,387.8 L179.7,387.5 L181.2,387.2 L182.7,386.7 L184.2,386.2 L185.7,385.6 L187.2,384.9 L188.7,384.0 L190.2,383.0 L191.7,381.9 L193.2,380.5 L194.7,379.0 L196.2,377.3 L197.7,375.5 L199.2,373.4 L200.7,371.2 L202.2,368.8 L203.7,366.4 L205.2,363.8 L206.7,361.1 L208.2,358.5 L209.7,355.8 L211.2,353.3 L212.7,350.8 L214.2,348.6 L215.7,346.5 L217.2,344.8 L218.7,343.3 L220.2,342.2 L221.7,341.5 L223.2,341.2 L224.7,341.3 L226.2,341.8 L227.7,342.7 L229.2,344.0 L230.7,345.5 L232.2,347.4 L233.7,349.6 L235.2,351.9 L236.7,354.4 L238.2,357.1 L239.7,359.7 L241.2,362.4 L242.7,365.0 L244.2,367.5 L245.7,370.0 L247.2,372.3 L248.7,374.4 L250.2,376.4 L251.7,378.1 L253.2,379.8 L254.7,381.2 L256.2,382.4 L257.7,383.5 L259.2,384.5 L260.7,385.2 L262.2,385.9 L263.7,386.5 L265.2,386.9 L266.7,387.3 L268.2,387.6 L269.7,387.9 L271.2,388.1 L272.7,388.2 L274.2,388.3 L275.7,388.4 L277.2,388.5 L278.7,388.6 L280.2,388.6" fill="none" stroke="#EBA00A" stroke-width="1.2"/>
<clipPath id="bu"><path d="M38.7,388.0 L40.2,387.8 L41.7,387.7 L43.2,387.5 L44.7,387.2 L46.2,386.9 L47.7,386.6 L49.2,386.2 L50.7,385.7 L52.2,385.2 L53.7,384.6 L55.2,384.0 L56.7,383.2 L58.2,382.4 L59.7,381.5 L61.2,380.4 L62.7,379.3 L64.2,378.0 L65.7,376.7 L67.2,375.2 L68.7,373.6 L70.2,371.9 L71.7,370.1 L73.2,368.2 L74.7,366.2 L76.2,364.1 L77.7,361.9 L79.2,359.7 L80.7,357.4 L82.2,355.1 L83.7,352.7 L85.2,350.4 L86.7,348.1 L88.2,345.9 L89.7,343.8 L91.2,341.7 L92.7,339.8 L94.2,338.0 L95.7,336.4 L97.2,335.0 L98.7,333.8 L100.2,332.8 L101.7,332.0 L103.2,331.5 L104.7,331.2 L106.2,331.2 L107.7,331.5 L109.2,332.0 L110.7,332.7 L112.2,333.7 L113.7,334.9 L115.2,336.3 L116.7,337.9 L118.2,339.7 L119.7,341.6 L121.2,343.6 L122.7,345.8 L124.2,348.0 L125.7,350.3 L127.2,352.6 L128.7,354.9 L130.2,354.3 L131.7,351.1 L133.2,347.8 L134.7,344.3 L136.2,340.6 L137.7,336.8 L139.2,332.8 L140.7,328.8 L142.2,324.6 L143.7,320.4 L145.2,316.1 L146.7,311.8 L148.2,307.4 L149.7,303.1 L151.2,298.9 L152.7,294.7 L154.2,290.7 L155.7,286.8 L157.2,283.1 L158.7,279.5 L160.2,276.2 L161.7,273.2 L163.2,270.4 L164.7,268.0 L166.2,265.9 L167.7,264.1 L169.2,262.8 L170.7,261.7 L172.2,261.1 L173.7,260.9 L175.2,261.1 L176.7,261.6 L178.2,262.6 L179.7,263.9 L181.2,265.6 L182.7,267.7 L184.2,270.1 L185.7,272.8 L187.2,275.8 L188.7,279.1 L190.2,282.6 L191.7,286.3 L193.2,290.2 L194.7,294.2 L196.2,298.3 L197.7,302.6 L199.2,306.9 L200.7,311.2 L202.2,315.5 L203.7,319.8 L205.2,324.0 L206.7,328.2 L208.2,332.3 L209.7,336.2 L211.2,340.1 L212.7,343.8 L214.2,347.3 L215.7,346.5 L217.2,344.8 L218.7,343.3 L220.2,342.2 L221.7,341.5 L223.2,341.2 L224.7,341.3 L226.2,341.8 L227.7,342.7 L229.2,344.0 L230.7,345.5 L232.2,347.4 L233.7,348.0 L235.2,346.5 L236.7,345.0 L238.2,343.4 L239.7,341.9 L241.2,340.3 L242.7,338.7 L244.2,337.1 L245.7,335.5 L247.2,333.9 L248.7,332.3 L250.2,330.7 L251.7,329.1 L253.2,327.5 L254.7,326.0 L256.2,324.4 L257.7,322.8 L259.2,321.3 L260.7,319.8 L262.2,318.3 L263.7,316.8 L265.2,315.4 L266.7,314.0 L268.2,312.6 L269.7,311.3 L271.2,310.0 L272.7,308.8 L274.2,307.6 L275.7,306.5 L277.2,305.4 L278.7,304.4 L280.2,303.4 L281.7,302.5 L283.2,301.7 L284.7,300.9 L286.2,300.2 L287.7,299.5 L289.2,299.0 L290.7,298.5 L292.2,298.0 L293.7,297.7 L295.2,297.4 L296.7,297.2 L298.2,297.1 L299.7,297.0 L301.2,297.0 L302.7,297.1 L304.2,297.3 L305.7,297.5 L307.2,297.9 L308.7,298.3 L310.2,298.7 L311.7,299.3 L313.2,299.9 L314.7,300.6 L316.2,301.3 L317.7,302.2 L319.2,303.0 L320.7,304.0 L322.2,305.0 L323.7,306.0 L325.2,307.2 L326.7,308.3 L328.2,309.5 L329.7,310.8 L331.2,312.1 L332.7,313.5 L334.2,314.8 L335.7,316.3 L337.2,317.7 L338.7,319.2 L340.2,320.7 L341.7,322.2 L343.2,323.8 L344.7,325.3 L346.2,326.9 L347.7,328.5 L349.2,330.1 L350.7,331.7 L352.2,333.3 L353.7,334.9 L355.2,336.5 L356.7,338.1 L358.2,339.7 L359.7,341.3 L361.2,342.8 L362.7,344.4 L364.2,345.9 L365.7,347.4 L367.2,348.9 L368.7,350.4 L370.2,351.8 L371.7,353.3 L373.2,354.7 L374.7,356.0 L376.2,357.4 L377.7,358.7 L379.2,359.9 L380.7,361.2 L382.2,362.4 L383.7,363.6 L385.2,364.7 L386.7,365.9 L388.2,366.9 L389.7,368.0 L391.2,369.0 L392.7,370.0 L394.2,370.9 L395.7,371.8 L397.2,372.7 L398.7,373.6 L400.2,374.4 L401.7,375.2 L403.2,375.9 L404.7,376.6 L406.2,377.3 L407.7,378.0 L409.2,378.6 L410.7,379.2 L412.2,379.8 L413.7,380.3 L415.2,380.8 L416.7,381.3 L418.2,381.8 L419.7,382.2 L421.2,382.6 L422.7,383.0 L424.2,383.4 L425.7,383.8 L427.2,384.1 L428.7,384.4 L430.2,384.7 L431.7,385.0 L433.2,385.3 L434.7,385.5 L436.2,385.7 L437.7,385.9 L439.2,386.2 L440.7,386.3 L442.2,386.5 L443.7,386.7 L445.2,386.8 L446.7,387.0 L448.2,387.1 L449.7,387.2 L451.2,387.4 L452.7,387.5 L454.2,387.6 L455.7,387.7 L457.2,387.7 L458.7,387.8 L460.2,387.9 L461.7,388.0 L463.2,388.0 L464.7,388.1 L466.2,388.1 L467.7,388.2 L469.2,388.2 L470.7,388.3 L472.2,388.3 L473.7,388.4 L475.2,388.4 L476.7,388.4 L478.2,388.4 L479.7,388.5 L481.2,388.5 L482.7,388.5 L484.2,388.5 L485.7,388.5 L487.2,388.6 L488.7,388.6 L490.2,388.6 L491.7,388.6 L493.2,388.6 L494.7,388.6 L496.2,388.6 L497.7,388.6 L499.2,388.6 L500.7,388.6 L502.2,388.7 L503.7,388.7 L505.2,388.7 L506.7,388.7 L508.2,388.7 L509.7,388.7 L511.2,388.7 L512.7,388.7 L514.2,388.7 L515.7,388.7 L517.2,388.7 L518.7,388.7 L520.2,388.7 L521.7,388.7 L523.2,388.7 L524.7,388.7 L526.2,388.7 L527.7,388.7 L529.2,388.7 L530.7,388.7 L532.2,388.7 L533.7,388.7 L535.2,388.7 L536.7,388.7 L538.2,388.7 L539.7,388.7 L541.2,388.7 L542.0,388.7 L38.7,388.7 Z"/></clipPath>
<clipPath id="bv"><path d="M38.7,388.0 L40.2,387.8 L41.7,387.7 L43.2,387.5 L44.7,387.2 L46.2,386.9 L47.7,386.6 L49.2,386.2 L50.7,385.7 L52.2,385.2 L53.7,384.6 L55.2,384.0 L56.7,383.2 L58.2,382.4 L59.7,381.5 L61.2,380.4 L62.7,379.3 L64.2,378.0 L65.7,376.7 L67.2,375.2 L68.7,373.6 L70.2,371.9 L71.7,370.1 L73.2,368.2 L74.7,366.2 L76.2,364.1 L77.7,361.9 L79.2,359.7 L80.7,357.4 L82.2,355.1 L83.7,352.7 L85.2,350.4 L86.7,348.1 L88.2,345.9 L89.7,343.8 L91.2,341.7 L92.7,339.8 L94.2,338.0 L95.7,336.4 L97.2,335.0 L98.7,333.8 L100.2,332.8 L101.7,332.0 L103.2,331.5 L104.7,331.2 L106.2,331.2 L107.7,331.5 L109.2,332.0 L110.7,332.7 L112.2,333.7 L113.7,334.9 L115.2,336.3 L116.7,337.9 L118.2,339.7 L119.7,341.6 L121.2,343.6 L122.7,345.8 L124.2,348.0 L125.7,350.3 L127.2,352.6 L128.7,354.9 L130.2,354.3 L131.7,351.1 L133.2,347.8 L134.7,344.3 L136.2,340.6 L137.7,336.8 L139.2,332.8 L140.7,328.8 L142.2,324.6 L143.7,320.4 L145.2,316.1 L146.7,311.8 L148.2,307.4 L149.7,303.1 L151.2,298.9 L152.7,294.7 L154.2,290.7 L155.7,286.8 L157.2,283.1 L158.7,279.5 L160.2,276.2 L161.7,273.2 L163.2,270.4 L164.7,268.0 L166.2,265.9 L167.7,264.1 L169.2,262.8 L170.7,261.7 L172.2,261.1 L173.7,260.9 L175.2,261.1 L176.7,261.6 L178.2,262.6 L179.7,263.9 L181.2,265.6 L182.7,267.7 L184.2,270.1 L185.7,272.8 L187.2,275.8 L188.7,279.1 L190.2,282.6 L191.7,286.3 L193.2,290.2 L194.7,294.2 L196.2,298.3 L197.7,302.6 L199.2,306.9 L200.7,311.2 L202.2,315.5 L203.7,319.8 L205.2,324.0 L206.7,328.2 L208.2,332.3 L209.7,336.2 L211.2,340.1 L212.7,343.8 L214.2,347.3 L215.7,346.5 L217.2,344.8 L218.7,343.3 L220.2,342.2 L221.7,341.5 L223.2,341.2 L224.7,341.3 L226.2,341.8 L227.7,342.7 L229.2,344.0 L230.7,345.5 L232.2,347.4 L233.7,348.0 L235.2,346.5 L236.7,345.0 L238.2,343.4 L239.7,341.9 L241.2,340.3 L242.7,338.7 L244.2,337.1 L245.7,335.5 L247.2,333.9 L248.7,332.3 L250.2,330.7 L251.7,329.1 L253.2,327.5 L254.7,326.0 L256.2,324.4 L257.7,322.8 L259.2,321.3 L260.7,319.8 L262.2,318.3 L263.7,316.8 L265.2,315.4 L266.7,314.0 L268.2,312.6 L269.7,311.3 L271.2,310.0 L272.7,308.8 L274.2,307.6 L275.7,306.5 L277.2,305.4 L278.7,304.4 L280.2,303.4 L281.7,302.5 L283.2,301.7 L284.7,300.9 L286.2,300.2 L287.7,299.5 L289.2,299.0 L290.7,298.5 L292.2,298.0 L293.7,297.7 L295.2,297.4 L296.7,297.2 L298.2,297.1 L299.7,297.0 L301.2,297.0 L302.7,297.1 L304.2,297.3 L305.7,297.5 L307.2,297.9 L308.7,298.3 L310.2,298.7 L311.7,299.3 L313.2,299.9 L314.7,300.6 L316.2,301.3 L317.7,302.2 L319.2,303.0 L320.7,304.0 L322.2,305.0 L323.7,306.0 L325.2,307.2 L326.7,308.3 L328.2,309.5 L329.7,310.8 L331.2,312.1 L332.7,313.5 L334.2,314.8 L335.7,316.3 L337.2,317.7 L338.7,319.2 L340.2,320.7 L341.7,322.2 L343.2,323.8 L344.7,325.3 L346.2,326.9 L347.7,328.5 L349.2,330.1 L350.7,331.7 L352.2,333.3 L353.7,334.9 L355.2,336.5 L356.7,338.1 L358.2,339.7 L359.7,341.3 L361.2,342.8 L362.7,344.4 L364.2,345.9 L365.7,347.4 L367.2,348.9 L368.7,350.4 L370.2,351.8 L371.7,353.3 L373.2,354.7 L374.7,356.0 L376.2,357.4 L377.7,358.7 L379.2,359.9 L380.7,361.1 L382.2,360.1 L383.7,359.2 L385.2,358.2 L386.7,357.3 L388.2,356.3 L389.7,355.4 L391.2,354.5 L392.7,353.6 L394.2,352.7 L395.7,351.8 L397.2,350.9 L398.7,350.1 L400.2,349.3 L401.7,348.5 L403.2,347.7 L404.7,347.0 L406.2,346.3 L407.7,345.7 L409.2,345.1 L410.7,344.5 L412.2,344.0 L413.7,343.5 L415.2,343.0 L416.7,342.6 L418.2,342.3 L419.7,342.0 L421.2,341.8 L422.7,341.6 L424.2,341.4 L425.7,341.3 L427.2,341.3 L428.7,341.3 L430.2,341.4 L431.7,341.5 L433.2,341.6 L434.7,341.8 L436.2,342.1 L437.7,342.4 L439.2,342.7 L440.7,343.1 L442.2,343.5 L443.7,344.0 L445.2,344.5 L446.7,345.0 L448.2,345.6 L449.7,346.2 L451.2,346.8 L452.7,347.5 L454.2,348.2 L455.7,349.0 L457.2,349.7 L458.7,350.5 L460.2,351.3 L461.7,352.1 L463.2,353.0 L464.7,353.8 L466.2,354.7 L467.7,355.6 L469.2,356.5 L470.7,357.4 L472.2,358.3 L473.7,359.2 L475.2,360.1 L476.7,361.0 L478.2,361.9 L479.7,362.8 L481.2,363.7 L482.7,364.6 L484.2,365.5 L485.7,366.3 L487.2,367.2 L488.7,368.0 L490.2,368.9 L491.7,369.7 L493.2,370.5 L494.7,371.3 L496.2,372.0 L497.7,372.8 L499.2,373.5 L500.7,374.2 L502.2,374.9 L503.7,375.6 L505.2,376.3 L506.7,376.9 L508.2,377.5 L509.7,378.1 L511.2,378.7 L512.7,379.2 L514.2,379.7 L515.7,380.2 L517.2,380.7 L518.7,381.2 L520.2,381.6 L521.7,382.1 L523.2,382.5 L524.7,382.9 L526.2,383.2 L527.7,383.6 L529.2,383.9 L530.7,384.2 L532.2,384.5 L533.7,384.8 L535.2,385.1 L536.7,385.3 L538.2,385.6 L539.7,385.8 L541.2,386.0 L542.0,388.7 L38.7,388.7 Z"/></clipPath>
<path d="M38.7,388.0 L40.2,387.8 L41.7,387.7 L43.2,387.5 L44.7,387.2 L46.2,386.9 L47.7,386.6 L49.2,386.2 L50.7,385.7 L52.2,385.2 L53.7,384.6 L55.2,384.0 L56.7,383.2 L58.2,382.4 L59.7,381.4 L61.2,380.4 L62.7,379.2 L64.2,377.9 L65.7,376.5 L67.2,374.9 L68.7,373.3 L70.2,371.4 L71.7,369.5 L73.2,367.4 L74.7,365.2 L76.2,362.9 L77.7,360.5 L79.2,358.0 L80.7,355.5 L82.2,353.0 L83.7,350.5 L85.2,348.1 L86.7,345.7 L88.2,343.3 L89.7,341.1 L91.2,339.0 L92.7,337.0 L94.2,335.2 L95.7,333.5 L97.2,331.9 L98.7,330.5 L100.2,329.2 L101.7,328.0 L103.2,327.1 L104.7,326.2 L106.2,325.6 L107.7,325.0 L109.2,324.6 L110.7,324.4 L112.2,324.2 L113.7,324.2 L115.2,324.2 L116.7,324.3 L118.2,324.4 L119.7,324.4 L121.2,324.5 L122.7,324.5 L124.2,324.3 L125.7,324.1 L127.2,323.7 L128.7,323.2 L130.2,322.4 L131.7,321.5 L133.2,320.3 L134.7,318.9 L136.2,317.3 L137.7,315.4 L139.2,313.3 L140.7,311.0 L142.2,308.5 L143.7,305.8 L145.2,302.9 L146.7,299.8 L148.2,296.7 L149.7,293.4 L151.2,290.1 L152.7,286.7 L154.2,283.4 L155.7,280.1 L157.2,276.8 L158.7,273.7 L160.2,270.7 L161.7,268.0 L163.2,265.4 L164.7,263.0 L166.2,261.0 L167.7,259.2 L169.2,257.7 L170.7,256.5 L172.2,255.6 L173.7,255.1 L175.2,254.9 L176.7,255.0 L178.2,255.4 L179.7,256.2 L181.2,257.2 L182.7,258.4 L184.2,259.8 L185.7,261.4 L187.2,263.2 L188.7,265.1 L190.2,267.0 L191.7,268.9 L193.2,270.8 L194.7,272.7 L196.2,274.5 L197.7,276.1 L199.2,277.6 L200.7,278.9 L202.2,280.0 L203.7,280.9 L205.2,281.7 L206.7,282.3 L208.2,282.7 L209.7,283.1 L211.2,283.3 L212.7,283.5 L214.2,283.7 L215.7,283.9 L217.2,284.2 L218.7,284.6 L220.2,285.1 L221.7,285.8 L223.2,286.7 L224.7,287.7 L226.2,289.0 L227.7,290.4 L229.2,292.0 L230.7,293.8 L232.2,295.6 L233.7,297.5 L235.2,299.4 L236.7,301.3 L238.2,303.1 L239.7,304.9 L241.2,306.6 L242.7,308.1 L244.2,309.5 L245.7,310.8 L247.2,311.9 L248.7,312.9 L250.2,313.7 L251.7,314.3 L253.2,314.8 L254.7,315.1 L256.2,315.3 L257.7,315.2 L259.2,315.0 L260.7,314.7 L262.2,314.2 L263.7,313.5 L265.2,312.8 L266.7,311.9 L268.2,311.0 L269.7,310.0 L271.2,309.0 L272.7,308.0 L274.2,307.0 L275.7,305.9 L277.2,304.9 L278.7,304.0 L280.2,303.0 L281.7,302.1 L283.2,301.3 L284.7,300.5 L286.2,299.8 L287.7,299.1 L289.2,298.5 L290.7,298.0 L292.2,297.5 L293.7,297.1 L295.2,296.8 L296.7,296.5 L298.2,296.3 L299.7,296.2 L301.2,296.1 L302.7,296.1 L304.2,296.2 L305.7,296.3 L307.2,296.5 L308.7,296.8 L310.2,297.2 L311.7,297.6 L313.2,298.0 L314.7,298.5 L316.2,299.1 L317.7,299.7 L319.2,300.4 L320.7,301.1 L322.2,301.9 L323.7,302.7 L325.2,303.6 L326.7,304.5 L328.2,305.4 L329.7,306.3 L331.2,307.3 L332.7,308.3 L334.2,309.3 L335.7,310.3 L337.2,311.4 L338.7,312.4 L340.2,313.5 L341.7,314.5 L343.2,315.6 L344.7,316.6 L346.2,317.6 L347.7,318.7 L349.2,319.7 L350.7,320.6 L352.2,321.6 L353.7,322.5 L355.2,323.5 L356.7,324.3 L358.2,325.2 L359.7,326.0 L361.2,326.8 L362.7,327.6 L364.2,328.3 L365.7,329.0 L367.2,329.6 L368.7,330.2 L370.2,330.8 L371.7,331.3 L373.2,331.8 L374.7,332.2 L376.2,332.6 L377.7,333.0 L379.2,333.3 L380.7,333.6 L382.2,333.9 L383.7,334.1 L385.2,334.3 L386.7,334.4 L388.2,334.6 L389.7,334.7 L391.2,334.8 L392.7,334.8 L394.2,334.9 L395.7,334.9 L397.2,334.9 L398.7,334.9 L400.2,334.9 L401.7,334.9 L403.2,334.9 L404.7,334.9 L406.2,334.9 L407.7,334.9 L409.2,335.0 L410.7,335.0 L412.2,335.0 L413.7,335.1 L415.2,335.2 L416.7,335.3 L418.2,335.4 L419.7,335.5 L421.2,335.7 L422.7,335.9 L424.2,336.1 L425.7,336.4 L427.2,336.7 L428.7,337.0 L430.2,337.4 L431.7,337.8 L433.2,338.2 L434.7,338.6 L436.2,339.1 L437.7,339.6 L439.2,340.2 L440.7,340.7 L442.2,341.3 L443.7,342.0 L445.2,342.6 L446.7,343.3 L448.2,344.0 L449.7,344.7 L451.2,345.5 L452.7,346.3 L454.2,347.1 L455.7,347.9 L457.2,348.8 L458.7,349.6 L460.2,350.5 L461.7,351.4 L463.2,352.3 L464.7,353.2 L466.2,354.1 L467.7,355.1 L469.2,356.0 L470.7,356.9 L472.2,357.9 L473.7,358.8 L475.2,359.8 L476.7,360.7 L478.2,361.6 L479.7,362.6 L481.2,363.5 L482.7,364.4 L484.2,365.3 L485.7,366.2 L487.2,367.0 L488.7,367.9 L490.2,368.8 L491.7,369.6 L493.2,370.4 L494.7,371.2 L496.2,372.0 L497.7,372.7 L499.2,373.5 L500.7,374.2 L502.2,374.9 L503.7,375.6 L505.2,376.2 L506.7,376.9 L508.2,377.5 L509.7,378.1 L511.2,378.6 L512.7,379.2 L514.2,379.7 L515.7,380.2 L517.2,380.7 L518.7,381.2 L520.2,381.6 L521.7,382.1 L523.2,382.5 L524.7,382.9 L526.2,383.2 L527.7,383.6 L529.2,383.9 L530.7,384.2 L532.2,384.5 L533.7,384.8 L535.2,385.1 L536.7,385.3 L538.2,385.6 L539.7,385.8 L541.2,386.0" fill="none" stroke="#000" stroke-width="2.35" stroke-dasharray="9.5 10.5" stroke-dashoffset="4.4" stroke-opacity="0.12" clip-path="url(#bu)"/>
<path d="M39.0,384.9 L40.2,384.0 L41.9,382.6 L44.0,381.1 L46.1,379.4 L48.1,377.8 L50.1,376.2 L52.1,374.6 L54.1,372.9 L56.2,371.3 L58.2,369.7 L60.2,368.2 L62.2,366.8 L64.3,365.5 L66.3,364.1 L68.3,362.7 L70.4,361.3 L72.5,359.9 L74.6,358.4 L76.6,357.0 L78.4,355.6 L80.0,354.2 L81.5,352.9 L82.8,351.6 L84.1,350.1 L85.5,348.5 L86.9,346.6 L88.4,344.5 L89.8,342.4 L91.3,340.3 L92.6,338.4 L93.9,336.8 L95.1,335.2 L96.2,333.8 L97.4,332.6 L98.6,331.4 L99.8,330.3 L100.9,329.4 L102.1,328.6 L103.4,327.9 L104.7,327.3 L106.2,326.9 L107.8,326.6 L109.5,326.4 L111.2,326.3 L112.8,326.3 L114.4,326.4 L116.1,326.7 L117.7,327.0 L119.3,327.4 L120.8,327.7 L122.2,328.0 L123.4,328.3 L124.6,328.6 L125.8,328.8 L126.9,328.9 L128.0,328.9 L129.0,328.9 L130.0,328.8 L131.0,328.3 L132.0,327.3 L133.1,325.6 L134.4,323.2 L135.6,320.6 L136.7,318.1 L137.7,316.0 L138.5,314.5 L139.1,313.4 L139.7,312.4 L140.3,311.4 L141.0,310.0 L141.8,308.3 L142.8,306.3 L143.7,304.2 L144.7,302.1 L145.6,300.0 L146.5,298.0 L147.3,296.0 L148.2,294.0 L149.0,292.0 L149.9,290.0 L150.8,288.0 L151.7,286.0 L152.6,284.0 L153.5,282.0 L154.4,280.0 L155.4,278.0 L156.3,275.9 L157.3,273.9 L158.3,271.9 L159.3,270.0 L160.2,268.2 L161.2,266.5 L162.1,264.9 L163.0,263.4 L164.1,262.0 L165.3,260.7 L166.5,259.5 L167.8,258.4 L169.1,257.4 L170.4,256.7 L171.8,256.2 L173.2,255.8 L174.6,255.6 L176.1,255.5 L177.5,255.7 L178.9,256.1 L180.4,256.6 L181.8,257.3 L183.2,258.2 L184.5,259.1 L185.7,260.1 L186.9,261.2 L188.1,262.5 L189.3,263.8 L190.6,265.2 L192.1,266.7 L193.7,268.4 L195.4,270.1 L197.0,271.8 L198.7,273.3 L200.3,274.7 L201.9,275.9 L203.6,277.1 L205.2,278.3 L206.8,279.3 L208.4,280.2 L209.9,281.0 L211.5,281.8 L213.1,282.6 L214.8,283.4 L216.7,284.3 L218.9,285.4 L221.0,286.4 L223.1,287.4 L224.9,288.4 L226.4,289.4 L227.7,290.3 L228.8,291.3 L229.9,292.2 L231.1,293.0 L232.3,293.7 L233.5,294.3 L234.7,294.8 L235.9,295.5 L237.1,296.3 L238.3,297.3 L239.5,298.3 L240.8,299.5 L242.0,300.8 L243.2,302.3 L244.4,304.1 L245.6,306.1 L246.8,308.2 L248.0,310.4 L249.2,312.4 L250.4,314.4 L251.7,316.4 L252.9,318.3 L254.1,320.1 L255.3,321.5 L256.4,322.6 L257.4,323.5 L258.4,324.1 L259.4,324.6 L260.4,324.9 L261.4,325.1 L262.4,325.2 L263.4,325.2 L264.4,324.9 L265.4,324.5 L266.4,323.9 L267.5,323.1 L268.5,322.2 L269.5,321.0 L270.5,319.5 L271.4,317.7 L272.2,315.5 L273.0,313.1 L273.7,310.7 L274.5,308.4 L275.3,306.3 L276.0,304.1 L276.8,302.0 L277.6,300.0 L278.5,298.3 L279.4,296.8 L280.4,295.4 L281.4,294.2 L282.5,293.1 L283.6,292.2 L284.7,291.5 L285.9,291.0 L287.1,290.6 L288.4,290.3 L289.6,290.2 L290.7,290.2 L291.8,290.3 L293.0,290.5 L294.2,290.8 L295.7,291.2 L297.5,291.7 L299.5,292.4 L301.6,293.1 L303.7,293.8 L305.8,294.6 L307.8,295.4 L309.8,296.1 L311.9,296.9 L313.9,297.8 L315.9,298.7 L317.9,299.7 L320.0,300.8 L322.0,302.0 L324.1,303.1 L326.0,304.3 L327.9,305.5 L329.8,306.8 L331.7,308.1 L333.4,309.3 L334.9,310.4 L336.1,311.3 L336.9,312.0 L337.7,312.7 L338.6,313.5 L340.0,314.5 L341.9,315.8 L344.1,317.4 L346.6,319.1 L349.1,320.7 L351.5,322.1 L353.7,323.3 L355.9,324.5 L358.1,325.6 L360.4,326.6 L362.9,327.5 L365.6,328.4 L368.6,329.2 L371.6,330.0 L374.8,330.7 L378.2,331.3 L381.8,331.7 L385.6,332.1 L389.5,332.3 L393.4,332.5 L397.3,332.8 L401.2,333.1 L405.1,333.4 L409.0,333.7 L412.8,334.0 L416.4,334.4 L419.8,334.9 L422.9,335.5 L426.0,336.1 L428.9,336.8 L431.6,337.4 L434.1,337.9 L436.4,338.4 L438.6,338.9 L440.7,339.5 L443.0,340.2 L445.3,341.0 L447.6,341.9 L450.0,342.9 L452.4,344.0 L455.0,345.3 L457.8,346.8 L460.8,348.5 L463.9,350.3 L467.0,352.2 L470.0,354.0 L473.0,355.9 L476.0,357.8 L479.0,359.7 L482.0,361.6 L485.0,363.5 L488.0,365.3 L491.0,367.2 L494.0,369.0 L497.0,370.7 L500.0,372.4 L503.0,374.0 L506.0,375.6 L509.0,377.2 L512.0,378.6 L515.0,380.0 L518.0,381.3 L521.1,382.6 L524.2,383.7 L527.2,384.8 L530.0,385.6 L532.8,386.2 L535.7,386.6 L538.5,386.9 L540.8,387.0 L542.4,387.2" fill="none" stroke="#F83A3A" stroke-width="2.9" stroke-opacity="0.33" clip-path="url(#bv)"/>
<line x1="38.7" y1="388.7" x2="542.0" y2="388.7" stroke="#E6A00A" stroke-width="2.2"/></g>
<path d="M38.7,415.8 L38.7,10.0 L542.0,10.0 L542.0,415.8 Z" fill="none" stroke="#000" stroke-width="2.3" stroke-linejoin="miter"/>
<line x1="74.14" y1="415.8" x2="74.14" y2="408.8" stroke="#000" stroke-width="2"/>
<line x1="109.59" y1="415.8" x2="109.59" y2="412.2" stroke="#000" stroke-width="2"/>
<line x1="145.03" y1="415.8" x2="145.03" y2="408.8" stroke="#000" stroke-width="2"/>
<line x1="180.47" y1="415.8" x2="180.47" y2="412.2" stroke="#000" stroke-width="2"/>
<line x1="215.92" y1="415.8" x2="215.92" y2="408.8" stroke="#000" stroke-width="2"/>
<line x1="251.36" y1="415.8" x2="251.36" y2="412.2" stroke="#000" stroke-width="2"/>
<line x1="286.81" y1="415.8" x2="286.81" y2="408.8" stroke="#000" stroke-width="2"/>
<line x1="322.25" y1="415.8" x2="322.25" y2="412.2" stroke="#000" stroke-width="2"/>
<line x1="357.69" y1="415.8" x2="357.69" y2="408.8" stroke="#000" stroke-width="2"/>
<line x1="393.14" y1="415.8" x2="393.14" y2="412.2" stroke="#000" stroke-width="2"/>
<line x1="428.58" y1="415.8" x2="428.58" y2="408.8" stroke="#000" stroke-width="2"/>
<line x1="464.02" y1="415.8" x2="464.02" y2="412.2" stroke="#000" stroke-width="2"/>
<line x1="499.47" y1="415.8" x2="499.47" y2="408.8" stroke="#000" stroke-width="2"/>
<line x1="534.91" y1="415.8" x2="534.91" y2="412.2" stroke="#000" stroke-width="2"/>
<line x1="416.8" y1="30.4" x2="441.8" y2="30.4" stroke="#1870E6" stroke-width="2.6"/>
<line x1="416.8" y1="51.3" x2="441.8" y2="51.3" stroke="#000" stroke-width="2.9" stroke-dasharray="7.6 5"/>
<line x1="416.8" y1="245.7" x2="441.8" y2="245.7" stroke="#F83A3A" stroke-width="2.6"/>
<line x1="416.8" y1="266.6" x2="441.8" y2="266.6" stroke="#000" stroke-width="2.9" stroke-dasharray="7.6 5"/>
<line x1="91.6" y1="172.0" x2="89.2" y2="142.5" stroke="#000" stroke-width="2"/><polygon points="88.5,133.5 93.2,144.2 85.6,144.8" fill="#000"/>
<line x1="179.7" y1="67.7" x2="215.0" y2="54.4" stroke="#000" stroke-width="2"/><polygon points="223.4,51.2 214.5,58.6 211.8,51.5" fill="#000"/>
<line x1="230.6" y1="184.4" x2="235.2" y2="172.5" stroke="#000" stroke-width="2"/><polygon points="238.3,164.6 238.0,175.8 231.0,173.0" fill="#000"/>
<line x1="301.7" y1="125.6" x2="316.8" y2="93.7" stroke="#000" stroke-width="2"/><polygon points="320.6,85.6 319.3,97.2 312.5,93.9" fill="#000"/>
<line x1="420.9" y1="175.0" x2="424.1" y2="151.7" stroke="#000" stroke-width="2"/><polygon points="425.3,142.8 427.6,154.2 420.0,153.2" fill="#000"/>
<text transform="translate(55.58,444.7) scale(0.9382,1)" font-size="26.6" class="r">800</text>
<text transform="translate(126.47,444.7) scale(0.9382,1)" font-size="26.6" class="r">850</text>
<text transform="translate(197.47,444.7) scale(0.9382,1)" font-size="26.6" class="r">900</text>
<text transform="translate(268.36,444.7) scale(0.9382,1)" font-size="26.6" class="r">950</text>
<text transform="translate(332.33,444.7) scale(0.9382,1)" font-size="26.6" class="r">1000</text>
<text transform="translate(403.22,444.7) scale(0.9382,1)" font-size="26.6" class="r">1050</text>
<text transform="translate(474.10,444.7) scale(0.9382,1)" font-size="26.6" class="r">1100</text>
<text transform="translate(444.15,34.8) scale(0.9920,1)" font-size="15.1" class="b">Experimental</text>
<text transform="translate(444.17,55.1) scale(0.9315,1)" font-size="15.1" class="b">Fit</text>
<text transform="translate(444.15,250.10000000000002) scale(0.9920,1)" font-size="15.1" class="b">Experimental</text>
<text transform="translate(444.17,270.40000000000003) scale(0.9315,1)" font-size="15.1" class="b">Fit</text>
<text transform="translate(44.47,34.3) scale(1.0263,1)" font-size="23.0" class="b">(a)</text>
<text transform="translate(76.37,34.3) scale(0.9039,1)" font-size="23.0" class="b">CS1</text>
<text transform="translate(43.78,254.2) scale(1.0154,1)" font-size="23.0" class="b">(b)</text>
<text transform="translate(76.35,254.2) scale(0.9239,1)" font-size="23.0" class="b">CS2</text>
<text transform="translate(41.67,126.3) scale(0.9722,1)" font-size="15.6" class="b">Si-O-Si symmetric stretching</text>
<text transform="translate(211.66,46.5) scale(0.9802,1)" font-size="15.6" class="b">Si-O-4NBO (s)</text>
<text transform="translate(235.26,152.5) scale(0.9837,1)" font-size="15.6" class="b">Si-O-3NBO(s)</text>
<text transform="translate(306.07,77.8) scale(0.9707,1)" font-size="15.6" class="b">Si-O-2NBO(s)</text>
<text transform="translate(385.47,129.3) scale(0.9792,1)" font-size="15.6" class="b">Si-O-NBO(s)</text>
<text transform="translate(179.15,485.5) scale(0.9817,1)" font-size="25.2" class="b">Wavenumbers (cm<tspan font-size="15" dy="-8.9">−1</tspan><tspan dy="8.9">)</tspan></text>
<text transform="translate(22.1,325.5) rotate(-90) scale(1,1)" font-size="24.3" class="b">Absorbance</text>
<text transform="translate(19.6,194.8) rotate(-90) scale(1.15,0.85)" font-size="11.5" class="b">(</text>
<text transform="translate(22.1,188.2) rotate(-90) scale(1,1)" font-size="24.3" class="b">L/</text>
<text transform="translate(19.6,163.3) rotate(-90) scale(1.15,0.85)" font-size="11.5" class="b">(</text>
<text transform="translate(22.1,156.6) rotate(-90) scale(0.915,1)" font-size="24.3" class="b">g·cm</text>
<text transform="translate(19.6,108.8) rotate(-90) scale(1.15,0.85)" font-size="11.5" class="b">))</text>
</svg>
</body></html>
